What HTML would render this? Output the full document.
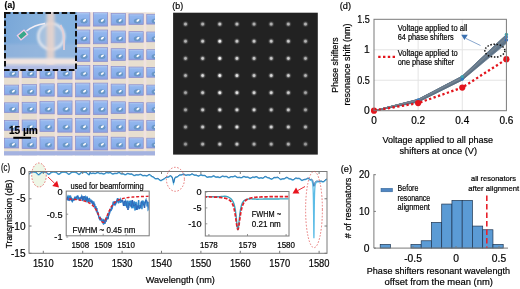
<!DOCTYPE html>
<html><head><meta charset="utf-8"><style>
html,body{margin:0;padding:0;background:#fff;width:520px;height:289px;overflow:hidden}
svg{display:block}
text{font-family:"Liberation Sans",Arial,sans-serif;stroke:#262626;stroke-width:0.22px;paint-order:stroke}
</style></head><body>
<svg width="520" height="289" viewBox="0 0 520 289">
<defs>
<linearGradient id="blk" x1="0" y1="0" x2="0" y2="1"><stop offset="0" stop-color="#b4ccf2"/><stop offset="0.2" stop-color="#92b6ee"/><stop offset="0.75" stop-color="#88aeea"/><stop offset="1" stop-color="#8aa0e0"/></linearGradient>
<linearGradient id="ibg" x1="0" y1="0" x2="1" y2="0.2"><stop offset="0" stop-color="#78a6d8"/><stop offset="0.55" stop-color="#88b2dc"/><stop offset="1" stop-color="#84b2e0"/></linearGradient>
<filter id="bl0" x="-5%" y="-5%" width="110%" height="110%"><feGaussianBlur stdDeviation="0.65"/></filter>
<filter id="bl1" x="-50%" y="-50%" width="200%" height="200%"><feGaussianBlur stdDeviation="0.6"/></filter>
<filter id="bl2" x="-50%" y="-50%" width="200%" height="200%"><feGaussianBlur stdDeviation="1.6"/></filter>
<filter id="bl3" x="-50%" y="-50%" width="200%" height="200%"><feGaussianBlur stdDeviation="1"/></filter>
<radialGradient id="dot"><stop offset="0" stop-color="#fff" stop-opacity="1"/><stop offset="0.3" stop-color="#eee" stop-opacity="0.95"/><stop offset="0.6" stop-color="#999" stop-opacity="0.45"/><stop offset="1" stop-color="#444" stop-opacity="0"/></radialGradient>
<clipPath id="pa"><rect x="4" y="12.3" width="151" height="143.3"/></clipPath>
<clipPath id="cin"><rect x="4" y="12" width="73" height="59"/></clipPath>
<clipPath id="cc"><rect x="29.0" y="160" width="298" height="93.3"/></clipPath>
</defs>
<g clip-path="url(#pa)">
<rect x="4" y="12.3" width="151" height="143.29999999999998" fill="#e8dfd0"/>
<g filter="url(#bl0)">
<rect x="19.10" y="12.3" width="2.6" height="143.29999999999998" fill="#f0e2e0"/>
<rect x="4.35" y="14.30" width="14.3" height="9.80" fill="url(#blk)" stroke="#8a8ccc" stroke-width="0.7"/>
<ellipse cx="12.80" cy="21.00" rx="3.6" ry="2.5" fill="#6090bc" opacity="0.75" filter="url(#bl1)"/>
<ellipse cx="13.40" cy="20.40" rx="1.8" ry="0.95" fill="#ffffff" transform="rotate(-35 13.40 20.40)"/>
<rect x="4.35" y="32.00" width="14.3" height="9.80" fill="url(#blk)" stroke="#8a8ccc" stroke-width="0.7"/>
<ellipse cx="12.80" cy="38.70" rx="3.6" ry="2.5" fill="#6090bc" opacity="0.75" filter="url(#bl1)"/>
<ellipse cx="13.40" cy="38.10" rx="1.8" ry="0.95" fill="#ffffff" transform="rotate(-35 13.40 38.10)"/>
<rect x="4.35" y="49.70" width="14.3" height="9.80" fill="url(#blk)" stroke="#8a8ccc" stroke-width="0.7"/>
<ellipse cx="12.80" cy="56.40" rx="3.6" ry="2.5" fill="#6090bc" opacity="0.75" filter="url(#bl1)"/>
<ellipse cx="13.40" cy="55.80" rx="1.8" ry="0.95" fill="#ffffff" transform="rotate(-35 13.40 55.80)"/>
<rect x="4.35" y="67.40" width="14.3" height="9.80" fill="url(#blk)" stroke="#8a8ccc" stroke-width="0.7"/>
<ellipse cx="12.80" cy="74.10" rx="3.6" ry="2.5" fill="#6090bc" opacity="0.75" filter="url(#bl1)"/>
<ellipse cx="13.40" cy="73.50" rx="1.8" ry="0.95" fill="#ffffff" transform="rotate(-35 13.40 73.50)"/>
<rect x="4.35" y="85.10" width="14.3" height="9.80" fill="url(#blk)" stroke="#8a8ccc" stroke-width="0.7"/>
<ellipse cx="12.80" cy="91.80" rx="3.6" ry="2.5" fill="#6090bc" opacity="0.75" filter="url(#bl1)"/>
<ellipse cx="13.40" cy="91.20" rx="1.8" ry="0.95" fill="#ffffff" transform="rotate(-35 13.40 91.20)"/>
<rect x="4.35" y="102.80" width="14.3" height="9.80" fill="url(#blk)" stroke="#8a8ccc" stroke-width="0.7"/>
<ellipse cx="12.80" cy="109.50" rx="3.6" ry="2.5" fill="#6090bc" opacity="0.75" filter="url(#bl1)"/>
<ellipse cx="13.40" cy="108.90" rx="1.8" ry="0.95" fill="#ffffff" transform="rotate(-35 13.40 108.90)"/>
<rect x="4.35" y="120.50" width="14.3" height="9.80" fill="url(#blk)" stroke="#8a8ccc" stroke-width="0.7"/>
<ellipse cx="12.80" cy="127.20" rx="3.6" ry="2.5" fill="#6090bc" opacity="0.75" filter="url(#bl1)"/>
<ellipse cx="13.40" cy="126.60" rx="1.8" ry="0.95" fill="#ffffff" transform="rotate(-35 13.40 126.60)"/>
<rect x="4.35" y="138.20" width="14.3" height="9.80" fill="url(#blk)" stroke="#8a8ccc" stroke-width="0.7"/>
<ellipse cx="12.80" cy="144.90" rx="3.6" ry="2.5" fill="#6090bc" opacity="0.75" filter="url(#bl1)"/>
<ellipse cx="13.40" cy="144.30" rx="1.8" ry="0.95" fill="#ffffff" transform="rotate(-35 13.40 144.30)"/>
<rect x="4.35" y="155.90" width="14.3" height="9.80" fill="url(#blk)" stroke="#8a8ccc" stroke-width="0.7"/>
<ellipse cx="12.80" cy="162.60" rx="3.6" ry="2.5" fill="#6090bc" opacity="0.75" filter="url(#bl1)"/>
<ellipse cx="13.40" cy="162.00" rx="1.8" ry="0.95" fill="#ffffff" transform="rotate(-35 13.40 162.00)"/>
<rect x="36.90" y="12.3" width="2.6" height="143.29999999999998" fill="#f0e2e0"/>
<rect x="22.15" y="13.80" width="14.3" height="10.80" fill="url(#blk)" stroke="#8a8ccc" stroke-width="0.7"/>
<ellipse cx="30.60" cy="21.00" rx="3.6" ry="2.5" fill="#6090bc" opacity="0.75" filter="url(#bl1)"/>
<ellipse cx="31.20" cy="20.40" rx="1.8" ry="0.95" fill="#ffffff" transform="rotate(-35 31.20 20.40)"/>
<rect x="22.15" y="31.50" width="14.3" height="10.80" fill="url(#blk)" stroke="#8a8ccc" stroke-width="0.7"/>
<ellipse cx="30.60" cy="38.70" rx="3.6" ry="2.5" fill="#6090bc" opacity="0.75" filter="url(#bl1)"/>
<ellipse cx="31.20" cy="38.10" rx="1.8" ry="0.95" fill="#ffffff" transform="rotate(-35 31.20 38.10)"/>
<rect x="22.15" y="49.20" width="14.3" height="10.80" fill="url(#blk)" stroke="#8a8ccc" stroke-width="0.7"/>
<ellipse cx="30.60" cy="56.40" rx="3.6" ry="2.5" fill="#6090bc" opacity="0.75" filter="url(#bl1)"/>
<ellipse cx="31.20" cy="55.80" rx="1.8" ry="0.95" fill="#ffffff" transform="rotate(-35 31.20 55.80)"/>
<rect x="22.15" y="66.90" width="14.3" height="10.80" fill="url(#blk)" stroke="#8a8ccc" stroke-width="0.7"/>
<ellipse cx="30.60" cy="74.10" rx="3.6" ry="2.5" fill="#6090bc" opacity="0.75" filter="url(#bl1)"/>
<ellipse cx="31.20" cy="73.50" rx="1.8" ry="0.95" fill="#ffffff" transform="rotate(-35 31.20 73.50)"/>
<rect x="22.15" y="84.60" width="14.3" height="10.80" fill="url(#blk)" stroke="#8a8ccc" stroke-width="0.7"/>
<ellipse cx="30.60" cy="91.80" rx="3.6" ry="2.5" fill="#6090bc" opacity="0.75" filter="url(#bl1)"/>
<ellipse cx="31.20" cy="91.20" rx="1.8" ry="0.95" fill="#ffffff" transform="rotate(-35 31.20 91.20)"/>
<rect x="22.15" y="102.30" width="14.3" height="10.80" fill="url(#blk)" stroke="#8a8ccc" stroke-width="0.7"/>
<ellipse cx="30.60" cy="109.50" rx="3.6" ry="2.5" fill="#6090bc" opacity="0.75" filter="url(#bl1)"/>
<ellipse cx="31.20" cy="108.90" rx="1.8" ry="0.95" fill="#ffffff" transform="rotate(-35 31.20 108.90)"/>
<rect x="22.15" y="120.00" width="14.3" height="10.80" fill="url(#blk)" stroke="#8a8ccc" stroke-width="0.7"/>
<ellipse cx="30.60" cy="127.20" rx="3.6" ry="2.5" fill="#6090bc" opacity="0.75" filter="url(#bl1)"/>
<ellipse cx="31.20" cy="126.60" rx="1.8" ry="0.95" fill="#ffffff" transform="rotate(-35 31.20 126.60)"/>
<rect x="22.15" y="137.70" width="14.3" height="10.80" fill="url(#blk)" stroke="#8a8ccc" stroke-width="0.7"/>
<ellipse cx="30.60" cy="144.90" rx="3.6" ry="2.5" fill="#6090bc" opacity="0.75" filter="url(#bl1)"/>
<ellipse cx="31.20" cy="144.30" rx="1.8" ry="0.95" fill="#ffffff" transform="rotate(-35 31.20 144.30)"/>
<rect x="22.15" y="155.40" width="14.3" height="10.80" fill="url(#blk)" stroke="#8a8ccc" stroke-width="0.7"/>
<ellipse cx="30.60" cy="162.60" rx="3.6" ry="2.5" fill="#6090bc" opacity="0.75" filter="url(#bl1)"/>
<ellipse cx="31.20" cy="162.00" rx="1.8" ry="0.95" fill="#ffffff" transform="rotate(-35 31.20 162.00)"/>
<rect x="54.70" y="12.3" width="2.6" height="143.29999999999998" fill="#f0e2e0"/>
<rect x="39.95" y="13.05" width="14.3" height="12.30" fill="url(#blk)" stroke="#8a8ccc" stroke-width="0.7"/>
<ellipse cx="48.40" cy="21.00" rx="3.6" ry="2.5" fill="#6090bc" opacity="0.75" filter="url(#bl1)"/>
<ellipse cx="49.00" cy="20.40" rx="1.8" ry="0.95" fill="#ffffff" transform="rotate(-35 49.00 20.40)"/>
<rect x="39.95" y="30.75" width="14.3" height="12.30" fill="url(#blk)" stroke="#8a8ccc" stroke-width="0.7"/>
<ellipse cx="48.40" cy="38.70" rx="3.6" ry="2.5" fill="#6090bc" opacity="0.75" filter="url(#bl1)"/>
<ellipse cx="49.00" cy="38.10" rx="1.8" ry="0.95" fill="#ffffff" transform="rotate(-35 49.00 38.10)"/>
<rect x="39.95" y="48.45" width="14.3" height="12.30" fill="url(#blk)" stroke="#8a8ccc" stroke-width="0.7"/>
<ellipse cx="48.40" cy="56.40" rx="3.6" ry="2.5" fill="#6090bc" opacity="0.75" filter="url(#bl1)"/>
<ellipse cx="49.00" cy="55.80" rx="1.8" ry="0.95" fill="#ffffff" transform="rotate(-35 49.00 55.80)"/>
<rect x="39.95" y="66.15" width="14.3" height="12.30" fill="url(#blk)" stroke="#8a8ccc" stroke-width="0.7"/>
<ellipse cx="48.40" cy="74.10" rx="3.6" ry="2.5" fill="#6090bc" opacity="0.75" filter="url(#bl1)"/>
<ellipse cx="49.00" cy="73.50" rx="1.8" ry="0.95" fill="#ffffff" transform="rotate(-35 49.00 73.50)"/>
<rect x="39.95" y="83.85" width="14.3" height="12.30" fill="url(#blk)" stroke="#8a8ccc" stroke-width="0.7"/>
<ellipse cx="48.40" cy="91.80" rx="3.6" ry="2.5" fill="#6090bc" opacity="0.75" filter="url(#bl1)"/>
<ellipse cx="49.00" cy="91.20" rx="1.8" ry="0.95" fill="#ffffff" transform="rotate(-35 49.00 91.20)"/>
<rect x="39.95" y="101.55" width="14.3" height="12.30" fill="url(#blk)" stroke="#8a8ccc" stroke-width="0.7"/>
<ellipse cx="48.40" cy="109.50" rx="3.6" ry="2.5" fill="#6090bc" opacity="0.75" filter="url(#bl1)"/>
<ellipse cx="49.00" cy="108.90" rx="1.8" ry="0.95" fill="#ffffff" transform="rotate(-35 49.00 108.90)"/>
<rect x="39.95" y="119.25" width="14.3" height="12.30" fill="url(#blk)" stroke="#8a8ccc" stroke-width="0.7"/>
<ellipse cx="48.40" cy="127.20" rx="3.6" ry="2.5" fill="#6090bc" opacity="0.75" filter="url(#bl1)"/>
<ellipse cx="49.00" cy="126.60" rx="1.8" ry="0.95" fill="#ffffff" transform="rotate(-35 49.00 126.60)"/>
<rect x="39.95" y="136.95" width="14.3" height="12.30" fill="url(#blk)" stroke="#8a8ccc" stroke-width="0.7"/>
<ellipse cx="48.40" cy="144.90" rx="3.6" ry="2.5" fill="#6090bc" opacity="0.75" filter="url(#bl1)"/>
<ellipse cx="49.00" cy="144.30" rx="1.8" ry="0.95" fill="#ffffff" transform="rotate(-35 49.00 144.30)"/>
<rect x="39.95" y="154.65" width="14.3" height="12.30" fill="url(#blk)" stroke="#8a8ccc" stroke-width="0.7"/>
<ellipse cx="48.40" cy="162.60" rx="3.6" ry="2.5" fill="#6090bc" opacity="0.75" filter="url(#bl1)"/>
<ellipse cx="49.00" cy="162.00" rx="1.8" ry="0.95" fill="#ffffff" transform="rotate(-35 49.00 162.00)"/>
<rect x="72.50" y="12.3" width="2.6" height="143.29999999999998" fill="#f0e2e0"/>
<rect x="57.75" y="12.45" width="14.3" height="13.50" fill="url(#blk)" stroke="#8a8ccc" stroke-width="0.7"/>
<ellipse cx="66.20" cy="21.00" rx="3.6" ry="2.5" fill="#6090bc" opacity="0.75" filter="url(#bl1)"/>
<ellipse cx="66.80" cy="20.40" rx="1.8" ry="0.95" fill="#ffffff" transform="rotate(-35 66.80 20.40)"/>
<rect x="57.75" y="30.15" width="14.3" height="13.50" fill="url(#blk)" stroke="#8a8ccc" stroke-width="0.7"/>
<ellipse cx="66.20" cy="38.70" rx="3.6" ry="2.5" fill="#6090bc" opacity="0.75" filter="url(#bl1)"/>
<ellipse cx="66.80" cy="38.10" rx="1.8" ry="0.95" fill="#ffffff" transform="rotate(-35 66.80 38.10)"/>
<rect x="57.75" y="47.85" width="14.3" height="13.50" fill="url(#blk)" stroke="#8a8ccc" stroke-width="0.7"/>
<ellipse cx="66.20" cy="56.40" rx="3.6" ry="2.5" fill="#6090bc" opacity="0.75" filter="url(#bl1)"/>
<ellipse cx="66.80" cy="55.80" rx="1.8" ry="0.95" fill="#ffffff" transform="rotate(-35 66.80 55.80)"/>
<rect x="57.75" y="65.55" width="14.3" height="13.50" fill="url(#blk)" stroke="#8a8ccc" stroke-width="0.7"/>
<ellipse cx="66.20" cy="74.10" rx="3.6" ry="2.5" fill="#6090bc" opacity="0.75" filter="url(#bl1)"/>
<ellipse cx="66.80" cy="73.50" rx="1.8" ry="0.95" fill="#ffffff" transform="rotate(-35 66.80 73.50)"/>
<rect x="57.75" y="83.25" width="14.3" height="13.50" fill="url(#blk)" stroke="#8a8ccc" stroke-width="0.7"/>
<ellipse cx="66.20" cy="91.80" rx="3.6" ry="2.5" fill="#6090bc" opacity="0.75" filter="url(#bl1)"/>
<ellipse cx="66.80" cy="91.20" rx="1.8" ry="0.95" fill="#ffffff" transform="rotate(-35 66.80 91.20)"/>
<rect x="57.75" y="100.95" width="14.3" height="13.50" fill="url(#blk)" stroke="#8a8ccc" stroke-width="0.7"/>
<ellipse cx="66.20" cy="109.50" rx="3.6" ry="2.5" fill="#6090bc" opacity="0.75" filter="url(#bl1)"/>
<ellipse cx="66.80" cy="108.90" rx="1.8" ry="0.95" fill="#ffffff" transform="rotate(-35 66.80 108.90)"/>
<rect x="57.75" y="118.65" width="14.3" height="13.50" fill="url(#blk)" stroke="#8a8ccc" stroke-width="0.7"/>
<ellipse cx="66.20" cy="127.20" rx="3.6" ry="2.5" fill="#6090bc" opacity="0.75" filter="url(#bl1)"/>
<ellipse cx="66.80" cy="126.60" rx="1.8" ry="0.95" fill="#ffffff" transform="rotate(-35 66.80 126.60)"/>
<rect x="57.75" y="136.35" width="14.3" height="13.50" fill="url(#blk)" stroke="#8a8ccc" stroke-width="0.7"/>
<ellipse cx="66.20" cy="144.90" rx="3.6" ry="2.5" fill="#6090bc" opacity="0.75" filter="url(#bl1)"/>
<ellipse cx="66.80" cy="144.30" rx="1.8" ry="0.95" fill="#ffffff" transform="rotate(-35 66.80 144.30)"/>
<rect x="57.75" y="154.05" width="14.3" height="13.50" fill="url(#blk)" stroke="#8a8ccc" stroke-width="0.7"/>
<ellipse cx="66.20" cy="162.60" rx="3.6" ry="2.5" fill="#6090bc" opacity="0.75" filter="url(#bl1)"/>
<ellipse cx="66.80" cy="162.00" rx="1.8" ry="0.95" fill="#ffffff" transform="rotate(-35 66.80 162.00)"/>
<rect x="90.30" y="12.3" width="2.6" height="143.29999999999998" fill="#f0e2e0"/>
<rect x="75.55" y="12.30" width="14.3" height="13.80" fill="url(#blk)" stroke="#8a8ccc" stroke-width="0.7"/>
<ellipse cx="84.00" cy="21.00" rx="3.6" ry="2.5" fill="#6090bc" opacity="0.75" filter="url(#bl1)"/>
<ellipse cx="84.60" cy="20.40" rx="1.8" ry="0.95" fill="#ffffff" transform="rotate(-35 84.60 20.40)"/>
<rect x="75.55" y="30.00" width="14.3" height="13.80" fill="url(#blk)" stroke="#8a8ccc" stroke-width="0.7"/>
<ellipse cx="84.00" cy="38.70" rx="3.6" ry="2.5" fill="#6090bc" opacity="0.75" filter="url(#bl1)"/>
<ellipse cx="84.60" cy="38.10" rx="1.8" ry="0.95" fill="#ffffff" transform="rotate(-35 84.60 38.10)"/>
<rect x="75.55" y="47.70" width="14.3" height="13.80" fill="url(#blk)" stroke="#8a8ccc" stroke-width="0.7"/>
<ellipse cx="84.00" cy="56.40" rx="3.6" ry="2.5" fill="#6090bc" opacity="0.75" filter="url(#bl1)"/>
<ellipse cx="84.60" cy="55.80" rx="1.8" ry="0.95" fill="#ffffff" transform="rotate(-35 84.60 55.80)"/>
<rect x="75.55" y="65.40" width="14.3" height="13.80" fill="url(#blk)" stroke="#8a8ccc" stroke-width="0.7"/>
<ellipse cx="84.00" cy="74.10" rx="3.6" ry="2.5" fill="#6090bc" opacity="0.75" filter="url(#bl1)"/>
<ellipse cx="84.60" cy="73.50" rx="1.8" ry="0.95" fill="#ffffff" transform="rotate(-35 84.60 73.50)"/>
<rect x="75.55" y="83.10" width="14.3" height="13.80" fill="url(#blk)" stroke="#8a8ccc" stroke-width="0.7"/>
<ellipse cx="84.00" cy="91.80" rx="3.6" ry="2.5" fill="#6090bc" opacity="0.75" filter="url(#bl1)"/>
<ellipse cx="84.60" cy="91.20" rx="1.8" ry="0.95" fill="#ffffff" transform="rotate(-35 84.60 91.20)"/>
<rect x="75.55" y="100.80" width="14.3" height="13.80" fill="url(#blk)" stroke="#8a8ccc" stroke-width="0.7"/>
<ellipse cx="84.00" cy="109.50" rx="3.6" ry="2.5" fill="#6090bc" opacity="0.75" filter="url(#bl1)"/>
<ellipse cx="84.60" cy="108.90" rx="1.8" ry="0.95" fill="#ffffff" transform="rotate(-35 84.60 108.90)"/>
<rect x="75.55" y="118.50" width="14.3" height="13.80" fill="url(#blk)" stroke="#8a8ccc" stroke-width="0.7"/>
<ellipse cx="84.00" cy="127.20" rx="3.6" ry="2.5" fill="#6090bc" opacity="0.75" filter="url(#bl1)"/>
<ellipse cx="84.60" cy="126.60" rx="1.8" ry="0.95" fill="#ffffff" transform="rotate(-35 84.60 126.60)"/>
<rect x="75.55" y="136.20" width="14.3" height="13.80" fill="url(#blk)" stroke="#8a8ccc" stroke-width="0.7"/>
<ellipse cx="84.00" cy="144.90" rx="3.6" ry="2.5" fill="#6090bc" opacity="0.75" filter="url(#bl1)"/>
<ellipse cx="84.60" cy="144.30" rx="1.8" ry="0.95" fill="#ffffff" transform="rotate(-35 84.60 144.30)"/>
<rect x="75.55" y="153.90" width="14.3" height="13.80" fill="url(#blk)" stroke="#8a8ccc" stroke-width="0.7"/>
<ellipse cx="84.00" cy="162.60" rx="3.6" ry="2.5" fill="#6090bc" opacity="0.75" filter="url(#bl1)"/>
<ellipse cx="84.60" cy="162.00" rx="1.8" ry="0.95" fill="#ffffff" transform="rotate(-35 84.60 162.00)"/>
<rect x="108.10" y="12.3" width="2.6" height="143.29999999999998" fill="#f0e2e0"/>
<rect x="93.35" y="12.30" width="14.3" height="13.80" fill="url(#blk)" stroke="#8a8ccc" stroke-width="0.7"/>
<ellipse cx="101.80" cy="21.00" rx="3.6" ry="2.5" fill="#6090bc" opacity="0.75" filter="url(#bl1)"/>
<ellipse cx="102.40" cy="20.40" rx="1.8" ry="0.95" fill="#ffffff" transform="rotate(-35 102.40 20.40)"/>
<rect x="93.35" y="30.00" width="14.3" height="13.80" fill="url(#blk)" stroke="#8a8ccc" stroke-width="0.7"/>
<ellipse cx="101.80" cy="38.70" rx="3.6" ry="2.5" fill="#6090bc" opacity="0.75" filter="url(#bl1)"/>
<ellipse cx="102.40" cy="38.10" rx="1.8" ry="0.95" fill="#ffffff" transform="rotate(-35 102.40 38.10)"/>
<rect x="93.35" y="47.70" width="14.3" height="13.80" fill="url(#blk)" stroke="#8a8ccc" stroke-width="0.7"/>
<ellipse cx="101.80" cy="56.40" rx="3.6" ry="2.5" fill="#6090bc" opacity="0.75" filter="url(#bl1)"/>
<ellipse cx="102.40" cy="55.80" rx="1.8" ry="0.95" fill="#ffffff" transform="rotate(-35 102.40 55.80)"/>
<rect x="93.35" y="65.40" width="14.3" height="13.80" fill="url(#blk)" stroke="#8a8ccc" stroke-width="0.7"/>
<ellipse cx="101.80" cy="74.10" rx="3.6" ry="2.5" fill="#6090bc" opacity="0.75" filter="url(#bl1)"/>
<ellipse cx="102.40" cy="73.50" rx="1.8" ry="0.95" fill="#ffffff" transform="rotate(-35 102.40 73.50)"/>
<rect x="93.35" y="83.10" width="14.3" height="13.80" fill="url(#blk)" stroke="#8a8ccc" stroke-width="0.7"/>
<ellipse cx="101.80" cy="91.80" rx="3.6" ry="2.5" fill="#6090bc" opacity="0.75" filter="url(#bl1)"/>
<ellipse cx="102.40" cy="91.20" rx="1.8" ry="0.95" fill="#ffffff" transform="rotate(-35 102.40 91.20)"/>
<rect x="93.35" y="100.80" width="14.3" height="13.80" fill="url(#blk)" stroke="#8a8ccc" stroke-width="0.7"/>
<ellipse cx="101.80" cy="109.50" rx="3.6" ry="2.5" fill="#6090bc" opacity="0.75" filter="url(#bl1)"/>
<ellipse cx="102.40" cy="108.90" rx="1.8" ry="0.95" fill="#ffffff" transform="rotate(-35 102.40 108.90)"/>
<rect x="93.35" y="118.50" width="14.3" height="13.80" fill="url(#blk)" stroke="#8a8ccc" stroke-width="0.7"/>
<ellipse cx="101.80" cy="127.20" rx="3.6" ry="2.5" fill="#6090bc" opacity="0.75" filter="url(#bl1)"/>
<ellipse cx="102.40" cy="126.60" rx="1.8" ry="0.95" fill="#ffffff" transform="rotate(-35 102.40 126.60)"/>
<rect x="93.35" y="136.20" width="14.3" height="13.80" fill="url(#blk)" stroke="#8a8ccc" stroke-width="0.7"/>
<ellipse cx="101.80" cy="144.90" rx="3.6" ry="2.5" fill="#6090bc" opacity="0.75" filter="url(#bl1)"/>
<ellipse cx="102.40" cy="144.30" rx="1.8" ry="0.95" fill="#ffffff" transform="rotate(-35 102.40 144.30)"/>
<rect x="93.35" y="153.90" width="14.3" height="13.80" fill="url(#blk)" stroke="#8a8ccc" stroke-width="0.7"/>
<ellipse cx="101.80" cy="162.60" rx="3.6" ry="2.5" fill="#6090bc" opacity="0.75" filter="url(#bl1)"/>
<ellipse cx="102.40" cy="162.00" rx="1.8" ry="0.95" fill="#ffffff" transform="rotate(-35 102.40 162.00)"/>
<rect x="125.90" y="12.3" width="2.6" height="143.29999999999998" fill="#f0e2e0"/>
<rect x="111.15" y="13.30" width="14.3" height="11.80" fill="url(#blk)" stroke="#8a8ccc" stroke-width="0.7"/>
<ellipse cx="119.60" cy="21.00" rx="3.6" ry="2.5" fill="#6090bc" opacity="0.75" filter="url(#bl1)"/>
<ellipse cx="120.20" cy="20.40" rx="1.8" ry="0.95" fill="#ffffff" transform="rotate(-35 120.20 20.40)"/>
<rect x="111.15" y="31.00" width="14.3" height="11.80" fill="url(#blk)" stroke="#8a8ccc" stroke-width="0.7"/>
<ellipse cx="119.60" cy="38.70" rx="3.6" ry="2.5" fill="#6090bc" opacity="0.75" filter="url(#bl1)"/>
<ellipse cx="120.20" cy="38.10" rx="1.8" ry="0.95" fill="#ffffff" transform="rotate(-35 120.20 38.10)"/>
<rect x="111.15" y="48.70" width="14.3" height="11.80" fill="url(#blk)" stroke="#8a8ccc" stroke-width="0.7"/>
<ellipse cx="119.60" cy="56.40" rx="3.6" ry="2.5" fill="#6090bc" opacity="0.75" filter="url(#bl1)"/>
<ellipse cx="120.20" cy="55.80" rx="1.8" ry="0.95" fill="#ffffff" transform="rotate(-35 120.20 55.80)"/>
<rect x="111.15" y="66.40" width="14.3" height="11.80" fill="url(#blk)" stroke="#8a8ccc" stroke-width="0.7"/>
<ellipse cx="119.60" cy="74.10" rx="3.6" ry="2.5" fill="#6090bc" opacity="0.75" filter="url(#bl1)"/>
<ellipse cx="120.20" cy="73.50" rx="1.8" ry="0.95" fill="#ffffff" transform="rotate(-35 120.20 73.50)"/>
<rect x="111.15" y="84.10" width="14.3" height="11.80" fill="url(#blk)" stroke="#8a8ccc" stroke-width="0.7"/>
<ellipse cx="119.60" cy="91.80" rx="3.6" ry="2.5" fill="#6090bc" opacity="0.75" filter="url(#bl1)"/>
<ellipse cx="120.20" cy="91.20" rx="1.8" ry="0.95" fill="#ffffff" transform="rotate(-35 120.20 91.20)"/>
<rect x="111.15" y="101.80" width="14.3" height="11.80" fill="url(#blk)" stroke="#8a8ccc" stroke-width="0.7"/>
<ellipse cx="119.60" cy="109.50" rx="3.6" ry="2.5" fill="#6090bc" opacity="0.75" filter="url(#bl1)"/>
<ellipse cx="120.20" cy="108.90" rx="1.8" ry="0.95" fill="#ffffff" transform="rotate(-35 120.20 108.90)"/>
<rect x="111.15" y="119.50" width="14.3" height="11.80" fill="url(#blk)" stroke="#8a8ccc" stroke-width="0.7"/>
<ellipse cx="119.60" cy="127.20" rx="3.6" ry="2.5" fill="#6090bc" opacity="0.75" filter="url(#bl1)"/>
<ellipse cx="120.20" cy="126.60" rx="1.8" ry="0.95" fill="#ffffff" transform="rotate(-35 120.20 126.60)"/>
<rect x="111.15" y="137.20" width="14.3" height="11.80" fill="url(#blk)" stroke="#8a8ccc" stroke-width="0.7"/>
<ellipse cx="119.60" cy="144.90" rx="3.6" ry="2.5" fill="#6090bc" opacity="0.75" filter="url(#bl1)"/>
<ellipse cx="120.20" cy="144.30" rx="1.8" ry="0.95" fill="#ffffff" transform="rotate(-35 120.20 144.30)"/>
<rect x="111.15" y="154.90" width="14.3" height="11.80" fill="url(#blk)" stroke="#8a8ccc" stroke-width="0.7"/>
<ellipse cx="119.60" cy="162.60" rx="3.6" ry="2.5" fill="#6090bc" opacity="0.75" filter="url(#bl1)"/>
<ellipse cx="120.20" cy="162.00" rx="1.8" ry="0.95" fill="#ffffff" transform="rotate(-35 120.20 162.00)"/>
<rect x="143.70" y="12.3" width="2.6" height="143.29999999999998" fill="#f0e2e0"/>
<rect x="128.95" y="13.95" width="14.3" height="10.50" fill="url(#blk)" stroke="#8a8ccc" stroke-width="0.7"/>
<ellipse cx="137.40" cy="21.00" rx="3.6" ry="2.5" fill="#6090bc" opacity="0.75" filter="url(#bl1)"/>
<ellipse cx="138.00" cy="20.40" rx="1.8" ry="0.95" fill="#ffffff" transform="rotate(-35 138.00 20.40)"/>
<rect x="128.95" y="31.65" width="14.3" height="10.50" fill="url(#blk)" stroke="#8a8ccc" stroke-width="0.7"/>
<ellipse cx="137.40" cy="38.70" rx="3.6" ry="2.5" fill="#6090bc" opacity="0.75" filter="url(#bl1)"/>
<ellipse cx="138.00" cy="38.10" rx="1.8" ry="0.95" fill="#ffffff" transform="rotate(-35 138.00 38.10)"/>
<rect x="128.95" y="49.35" width="14.3" height="10.50" fill="url(#blk)" stroke="#8a8ccc" stroke-width="0.7"/>
<ellipse cx="137.40" cy="56.40" rx="3.6" ry="2.5" fill="#6090bc" opacity="0.75" filter="url(#bl1)"/>
<ellipse cx="138.00" cy="55.80" rx="1.8" ry="0.95" fill="#ffffff" transform="rotate(-35 138.00 55.80)"/>
<rect x="128.95" y="67.05" width="14.3" height="10.50" fill="url(#blk)" stroke="#8a8ccc" stroke-width="0.7"/>
<ellipse cx="137.40" cy="74.10" rx="3.6" ry="2.5" fill="#6090bc" opacity="0.75" filter="url(#bl1)"/>
<ellipse cx="138.00" cy="73.50" rx="1.8" ry="0.95" fill="#ffffff" transform="rotate(-35 138.00 73.50)"/>
<rect x="128.95" y="84.75" width="14.3" height="10.50" fill="url(#blk)" stroke="#8a8ccc" stroke-width="0.7"/>
<ellipse cx="137.40" cy="91.80" rx="3.6" ry="2.5" fill="#6090bc" opacity="0.75" filter="url(#bl1)"/>
<ellipse cx="138.00" cy="91.20" rx="1.8" ry="0.95" fill="#ffffff" transform="rotate(-35 138.00 91.20)"/>
<rect x="128.95" y="102.45" width="14.3" height="10.50" fill="url(#blk)" stroke="#8a8ccc" stroke-width="0.7"/>
<ellipse cx="137.40" cy="109.50" rx="3.6" ry="2.5" fill="#6090bc" opacity="0.75" filter="url(#bl1)"/>
<ellipse cx="138.00" cy="108.90" rx="1.8" ry="0.95" fill="#ffffff" transform="rotate(-35 138.00 108.90)"/>
<rect x="128.95" y="120.15" width="14.3" height="10.50" fill="url(#blk)" stroke="#8a8ccc" stroke-width="0.7"/>
<ellipse cx="137.40" cy="127.20" rx="3.6" ry="2.5" fill="#6090bc" opacity="0.75" filter="url(#bl1)"/>
<ellipse cx="138.00" cy="126.60" rx="1.8" ry="0.95" fill="#ffffff" transform="rotate(-35 138.00 126.60)"/>
<rect x="128.95" y="137.85" width="14.3" height="10.50" fill="url(#blk)" stroke="#8a8ccc" stroke-width="0.7"/>
<ellipse cx="137.40" cy="144.90" rx="3.6" ry="2.5" fill="#6090bc" opacity="0.75" filter="url(#bl1)"/>
<ellipse cx="138.00" cy="144.30" rx="1.8" ry="0.95" fill="#ffffff" transform="rotate(-35 138.00 144.30)"/>
<rect x="128.95" y="155.55" width="14.3" height="10.50" fill="url(#blk)" stroke="#8a8ccc" stroke-width="0.7"/>
<ellipse cx="137.40" cy="162.60" rx="3.6" ry="2.5" fill="#6090bc" opacity="0.75" filter="url(#bl1)"/>
<ellipse cx="138.00" cy="162.00" rx="1.8" ry="0.95" fill="#ffffff" transform="rotate(-35 138.00 162.00)"/>
<rect x="161.50" y="12.3" width="2.6" height="143.29999999999998" fill="#f0e2e0"/>
<rect x="146.75" y="14.30" width="14.3" height="9.80" fill="url(#blk)" stroke="#8a8ccc" stroke-width="0.7"/>
<ellipse cx="155.20" cy="21.00" rx="3.6" ry="2.5" fill="#6090bc" opacity="0.75" filter="url(#bl1)"/>
<ellipse cx="155.80" cy="20.40" rx="1.8" ry="0.95" fill="#ffffff" transform="rotate(-35 155.80 20.40)"/>
<rect x="146.75" y="32.00" width="14.3" height="9.80" fill="url(#blk)" stroke="#8a8ccc" stroke-width="0.7"/>
<ellipse cx="155.20" cy="38.70" rx="3.6" ry="2.5" fill="#6090bc" opacity="0.75" filter="url(#bl1)"/>
<ellipse cx="155.80" cy="38.10" rx="1.8" ry="0.95" fill="#ffffff" transform="rotate(-35 155.80 38.10)"/>
<rect x="146.75" y="49.70" width="14.3" height="9.80" fill="url(#blk)" stroke="#8a8ccc" stroke-width="0.7"/>
<ellipse cx="155.20" cy="56.40" rx="3.6" ry="2.5" fill="#6090bc" opacity="0.75" filter="url(#bl1)"/>
<ellipse cx="155.80" cy="55.80" rx="1.8" ry="0.95" fill="#ffffff" transform="rotate(-35 155.80 55.80)"/>
<rect x="146.75" y="67.40" width="14.3" height="9.80" fill="url(#blk)" stroke="#8a8ccc" stroke-width="0.7"/>
<ellipse cx="155.20" cy="74.10" rx="3.6" ry="2.5" fill="#6090bc" opacity="0.75" filter="url(#bl1)"/>
<ellipse cx="155.80" cy="73.50" rx="1.8" ry="0.95" fill="#ffffff" transform="rotate(-35 155.80 73.50)"/>
<rect x="146.75" y="85.10" width="14.3" height="9.80" fill="url(#blk)" stroke="#8a8ccc" stroke-width="0.7"/>
<ellipse cx="155.20" cy="91.80" rx="3.6" ry="2.5" fill="#6090bc" opacity="0.75" filter="url(#bl1)"/>
<ellipse cx="155.80" cy="91.20" rx="1.8" ry="0.95" fill="#ffffff" transform="rotate(-35 155.80 91.20)"/>
<rect x="146.75" y="102.80" width="14.3" height="9.80" fill="url(#blk)" stroke="#8a8ccc" stroke-width="0.7"/>
<ellipse cx="155.20" cy="109.50" rx="3.6" ry="2.5" fill="#6090bc" opacity="0.75" filter="url(#bl1)"/>
<ellipse cx="155.80" cy="108.90" rx="1.8" ry="0.95" fill="#ffffff" transform="rotate(-35 155.80 108.90)"/>
<rect x="146.75" y="120.50" width="14.3" height="9.80" fill="url(#blk)" stroke="#8a8ccc" stroke-width="0.7"/>
<ellipse cx="155.20" cy="127.20" rx="3.6" ry="2.5" fill="#6090bc" opacity="0.75" filter="url(#bl1)"/>
<ellipse cx="155.80" cy="126.60" rx="1.8" ry="0.95" fill="#ffffff" transform="rotate(-35 155.80 126.60)"/>
<rect x="146.75" y="138.20" width="14.3" height="9.80" fill="url(#blk)" stroke="#8a8ccc" stroke-width="0.7"/>
<ellipse cx="155.20" cy="144.90" rx="3.6" ry="2.5" fill="#6090bc" opacity="0.75" filter="url(#bl1)"/>
<ellipse cx="155.80" cy="144.30" rx="1.8" ry="0.95" fill="#ffffff" transform="rotate(-35 155.80 144.30)"/>
<rect x="146.75" y="155.90" width="14.3" height="9.80" fill="url(#blk)" stroke="#8a8ccc" stroke-width="0.7"/>
<ellipse cx="155.20" cy="162.60" rx="3.6" ry="2.5" fill="#6090bc" opacity="0.75" filter="url(#bl1)"/>
<ellipse cx="155.80" cy="162.00" rx="1.8" ry="0.95" fill="#ffffff" transform="rotate(-35 155.80 162.00)"/>
<rect x="4" y="151.2" width="151" height="4.4" fill="#a4b2e0"/>
</g>
</g>
<g clip-path="url(#cin)">
<rect x="4" y="12" width="73" height="59" fill="url(#ibg)"/>
<rect x="4" y="44" width="73" height="14" fill="#a0bade" opacity="0.5" filter="url(#bl2)"/>
<circle cx="51.2" cy="36.5" r="11.5" fill="#c2cee0" opacity="0.55" filter="url(#bl2)"/>
<circle cx="51.2" cy="36.5" r="12.8" fill="none" stroke="#e2e6ee" stroke-width="2.8" opacity="1" filter="url(#bl3)"/>
<rect x="46.6" y="8" width="8" height="68" fill="#e8d4cc" opacity="0.88" filter="url(#bl2)"/>
<rect x="0" y="64.6" width="80" height="8" fill="#b0bce4"/>
<rect x="0" y="58.2" width="80" height="6.6" fill="#f0e4e0" filter="url(#bl3)"/>
<path d="M60.5,25 C63.5,30 64.5,38 64,50" fill="none" stroke="#e6d0d6" stroke-width="2" opacity="0.9" filter="url(#bl1)"/>
<path d="M26.5,31 C31,27.5 37,24.5 45,23.5" fill="none" stroke="#f4eef4" stroke-width="1.4"/>
<rect x="18.2" y="32.2" width="8.6" height="5.6" fill="#38a88a" stroke="#f2cce8" stroke-width="1.3" transform="rotate(-40 22.5 35)"/>
</g>
<rect x="5" y="13" width="71" height="57" fill="none" stroke="#111" stroke-width="2" stroke-dasharray="5.5,2.6"/>
<rect x="13.3" y="136.8" width="17.7" height="2" fill="#000"/>
<text x="8.90" y="134.00" font-size="10.9" textLength="29.00" lengthAdjust="spacingAndGlyphs" fill="#000" font-weight="bold" style="stroke:#000;stroke-width:0.15px">15 µm</text>
<rect x="173.1" y="12.7" width="144.7" height="141.9" fill="#222"/>
<circle cx="185.50" cy="24.10" r="3.6" fill="url(#dot)" opacity="0.69"/>
<circle cx="202.64" cy="24.10" r="3.6" fill="url(#dot)" opacity="0.69"/>
<circle cx="219.78" cy="24.10" r="3.6" fill="url(#dot)" opacity="0.80"/>
<circle cx="236.92" cy="24.10" r="3.6" fill="url(#dot)" opacity="0.75"/>
<circle cx="254.06" cy="24.10" r="3.6" fill="url(#dot)" opacity="0.69"/>
<circle cx="271.20" cy="24.10" r="3.6" fill="url(#dot)" opacity="0.69"/>
<circle cx="288.34" cy="24.10" r="3.6" fill="url(#dot)" opacity="0.69"/>
<circle cx="305.48" cy="24.10" r="3.6" fill="url(#dot)" opacity="0.69"/>
<circle cx="185.50" cy="41.25" r="3.6" fill="url(#dot)" opacity="0.69"/>
<circle cx="202.64" cy="41.25" r="3.6" fill="url(#dot)" opacity="0.80"/>
<circle cx="219.78" cy="41.25" r="3.6" fill="url(#dot)" opacity="1.00"/>
<circle cx="236.92" cy="41.25" r="3.6" fill="url(#dot)" opacity="0.80"/>
<circle cx="254.06" cy="41.25" r="3.6" fill="url(#dot)" opacity="0.80"/>
<circle cx="271.20" cy="41.25" r="3.6" fill="url(#dot)" opacity="0.80"/>
<circle cx="288.34" cy="41.25" r="3.6" fill="url(#dot)" opacity="0.80"/>
<circle cx="305.48" cy="41.25" r="3.6" fill="url(#dot)" opacity="0.69"/>
<circle cx="185.50" cy="58.40" r="3.6" fill="url(#dot)" opacity="0.69"/>
<circle cx="202.64" cy="58.40" r="3.6" fill="url(#dot)" opacity="0.80"/>
<circle cx="219.78" cy="58.40" r="3.6" fill="url(#dot)" opacity="1.00"/>
<circle cx="236.92" cy="58.40" r="3.6" fill="url(#dot)" opacity="0.86"/>
<circle cx="254.06" cy="58.40" r="3.6" fill="url(#dot)" opacity="0.80"/>
<circle cx="271.20" cy="58.40" r="3.6" fill="url(#dot)" opacity="0.80"/>
<circle cx="288.34" cy="58.40" r="3.6" fill="url(#dot)" opacity="0.80"/>
<circle cx="305.48" cy="58.40" r="3.6" fill="url(#dot)" opacity="0.69"/>
<circle cx="185.50" cy="75.55" r="3.6" fill="url(#dot)" opacity="0.69"/>
<circle cx="202.64" cy="75.55" r="3.6" fill="url(#dot)" opacity="0.86"/>
<circle cx="219.78" cy="75.55" r="3.6" fill="url(#dot)" opacity="1.00"/>
<circle cx="236.92" cy="75.55" r="3.6" fill="url(#dot)" opacity="0.92"/>
<circle cx="254.06" cy="75.55" r="3.6" fill="url(#dot)" opacity="0.80"/>
<circle cx="271.20" cy="75.55" r="3.6" fill="url(#dot)" opacity="0.86"/>
<circle cx="288.34" cy="75.55" r="3.6" fill="url(#dot)" opacity="0.80"/>
<circle cx="305.48" cy="75.55" r="3.6" fill="url(#dot)" opacity="0.69"/>
<circle cx="185.50" cy="92.70" r="3.6" fill="url(#dot)" opacity="0.63"/>
<circle cx="202.64" cy="92.70" r="3.6" fill="url(#dot)" opacity="0.80"/>
<circle cx="219.78" cy="92.70" r="3.6" fill="url(#dot)" opacity="0.98"/>
<circle cx="236.92" cy="92.70" r="3.6" fill="url(#dot)" opacity="0.92"/>
<circle cx="254.06" cy="92.70" r="3.6" fill="url(#dot)" opacity="0.86"/>
<circle cx="271.20" cy="92.70" r="3.6" fill="url(#dot)" opacity="0.86"/>
<circle cx="288.34" cy="92.70" r="3.6" fill="url(#dot)" opacity="0.80"/>
<circle cx="305.48" cy="92.70" r="3.6" fill="url(#dot)" opacity="0.63"/>
<circle cx="185.50" cy="109.85" r="3.6" fill="url(#dot)" opacity="0.63"/>
<circle cx="202.64" cy="109.85" r="3.6" fill="url(#dot)" opacity="0.80"/>
<circle cx="219.78" cy="109.85" r="3.6" fill="url(#dot)" opacity="0.92"/>
<circle cx="236.92" cy="109.85" r="3.6" fill="url(#dot)" opacity="0.86"/>
<circle cx="254.06" cy="109.85" r="3.6" fill="url(#dot)" opacity="0.86"/>
<circle cx="271.20" cy="109.85" r="3.6" fill="url(#dot)" opacity="0.80"/>
<circle cx="288.34" cy="109.85" r="3.6" fill="url(#dot)" opacity="0.80"/>
<circle cx="305.48" cy="109.85" r="3.6" fill="url(#dot)" opacity="0.63"/>
<circle cx="185.50" cy="127.00" r="3.6" fill="url(#dot)" opacity="0.63"/>
<circle cx="202.64" cy="127.00" r="3.6" fill="url(#dot)" opacity="0.80"/>
<circle cx="219.78" cy="127.00" r="3.6" fill="url(#dot)" opacity="0.92"/>
<circle cx="236.92" cy="127.00" r="3.6" fill="url(#dot)" opacity="0.92"/>
<circle cx="254.06" cy="127.00" r="3.6" fill="url(#dot)" opacity="0.80"/>
<circle cx="271.20" cy="127.00" r="3.6" fill="url(#dot)" opacity="0.86"/>
<circle cx="288.34" cy="127.00" r="3.6" fill="url(#dot)" opacity="0.80"/>
<circle cx="305.48" cy="127.00" r="3.6" fill="url(#dot)" opacity="0.69"/>
<circle cx="185.50" cy="144.15" r="3.6" fill="url(#dot)" opacity="0.57"/>
<circle cx="202.64" cy="144.15" r="3.6" fill="url(#dot)" opacity="0.69"/>
<circle cx="219.78" cy="144.15" r="3.6" fill="url(#dot)" opacity="0.80"/>
<circle cx="236.92" cy="144.15" r="3.6" fill="url(#dot)" opacity="0.80"/>
<circle cx="254.06" cy="144.15" r="3.6" fill="url(#dot)" opacity="0.69"/>
<circle cx="271.20" cy="144.15" r="3.6" fill="url(#dot)" opacity="0.69"/>
<circle cx="288.34" cy="144.15" r="3.6" fill="url(#dot)" opacity="0.69"/>
<circle cx="305.48" cy="144.15" r="3.6" fill="url(#dot)" opacity="0.57"/>
<text x="4.60" y="8.10" font-size="9.5" textLength="10.40" lengthAdjust="spacingAndGlyphs" font-weight="bold">(a)</text>
<text x="172.30" y="8.60" font-size="9.5" textLength="10.80" lengthAdjust="spacingAndGlyphs">(b)</text>
<text x="1.00" y="170.90" font-size="10" textLength="9.00" lengthAdjust="spacingAndGlyphs">(c)</text>
<text x="339.70" y="8.80" font-size="9.5" textLength="11.30" lengthAdjust="spacingAndGlyphs">(d)</text>
<text x="340.80" y="171.70" font-size="9.5" textLength="11.30" lengthAdjust="spacingAndGlyphs">(e)</text>
<ellipse cx="39" cy="175" rx="7.3" ry="12" fill="#eef6e6"/>
<g clip-path="url(#cc)">
<path d="M29.00,174.26 L29.50,173.97 L30.00,173.54 L30.50,173.08 L31.00,172.71 L31.50,172.45 L32.00,172.30 L32.50,172.23 L33.00,172.20 L33.50,172.20 L34.00,172.22 L34.50,172.26 L35.00,172.33 L35.50,172.47 L36.00,172.70 L36.50,173.06 L37.00,173.55 L37.50,174.11 L38.00,174.62 L38.50,174.91 L39.00,174.88 L39.50,174.53 L40.00,174.01 L40.50,173.46 L41.00,173.00 L41.50,172.67 L42.00,172.46 L42.50,172.34 L43.00,172.28 L43.50,172.25 L44.00,172.24 L44.50,172.25 L45.00,172.28 L45.50,172.37 L46.00,172.54 L46.50,172.83 L47.00,173.23 L47.50,173.69 L48.00,174.11 L48.50,174.36 L49.00,174.36 L49.50,174.11 L50.00,173.69 L50.50,173.23 L51.00,172.82 L51.50,172.53 L52.00,172.36 L52.50,172.27 L53.00,172.22 L53.50,172.21 L54.00,172.21 L54.50,172.23 L55.00,172.27 L55.50,172.35 L56.00,172.52 L56.50,172.80 L57.00,173.20 L57.50,173.66 L58.00,174.09 L58.50,174.36 L59.00,174.39 L59.50,174.17 L60.00,173.76 L60.50,173.30 L61.00,172.88 L61.50,172.58 L62.00,172.40 L62.50,172.30 L63.00,172.26 L63.50,172.24 L64.00,172.24 L64.50,172.25 L65.00,172.29 L65.50,172.37 L66.00,172.53 L66.50,172.80 L67.00,173.18 L67.50,173.64 L68.00,174.08 L68.50,174.38 L69.00,174.44 L69.50,174.23 L70.00,173.84 L70.50,173.37 L71.00,172.96 L71.50,172.64 L72.00,172.45 L72.50,172.34 L73.00,172.29 L73.50,172.27 L74.00,172.27 L74.50,172.28 L75.00,172.32 L75.50,172.40 L76.00,172.55 L76.50,172.80 L77.00,173.18 L77.50,173.63 L78.00,174.08 L78.50,174.40 L79.00,174.48 L79.50,174.30 L80.00,173.92 L80.50,173.46 L81.00,173.03 L81.50,172.70 L82.00,172.50 L82.50,172.38 L83.00,172.33 L83.50,172.31 L84.00,172.31 L84.50,172.32 L85.00,172.35 L85.50,172.42 L86.00,172.56 L86.50,172.87 L87.00,173.28 L87.50,173.79 L88.00,174.30 L88.50,174.70 L89.00,174.86 L89.50,174.76 L90.00,172.78 L90.50,173.20 L91.00,173.51 L91.50,173.63 L92.00,173.60 L92.50,173.48 L93.00,173.39 L93.50,173.40 L94.00,173.50 L94.50,173.64 L95.00,173.71 L95.50,173.65 L96.00,173.44 L96.50,173.15 L97.00,172.92 L97.50,172.76 L98.00,172.80 L98.50,173.01 L99.00,173.29 L99.50,173.52 L100.00,173.63 L100.50,173.61 L101.00,173.55 L101.50,173.52 L102.00,173.60 L102.50,173.79 L103.00,174.02 L103.50,174.18 L104.00,174.18 L104.50,173.98 L105.00,173.63 L105.50,173.26 L106.00,172.97 L106.50,172.83 L107.00,172.85 L107.50,172.97 L108.00,173.07 L108.50,173.08 L109.00,172.99 L109.50,172.86 L110.00,172.82 L110.50,172.92 L111.00,173.19 L111.50,173.56 L112.00,173.92 L112.50,174.14 L113.00,174.18 L113.50,174.05 L114.00,173.83 L114.50,173.65 L115.00,173.56 L115.50,173.58 L116.00,173.65 L116.50,173.67 L117.00,173.56 L117.50,173.32 L118.00,173.02 L118.50,172.81 L119.00,172.76 L119.50,172.90 L120.00,173.22 L120.50,173.59 L121.00,173.90 L121.50,174.08 L122.00,174.13 L122.50,174.10 L123.00,174.11 L123.50,174.21 L124.00,174.41 L124.50,174.65 L125.00,174.82 L125.50,174.83 L126.00,174.65 L126.50,174.34 L127.00,174.02 L127.50,173.79 L128.00,173.74 L128.50,173.85 L129.00,174.04 L129.50,174.22 L130.00,174.31 L130.50,174.30 L131.00,174.25 L131.50,174.26 L132.00,174.41 L132.50,174.71 L133.00,175.10 L133.50,175.46 L134.00,175.68 L134.50,175.70 L135.00,175.55 L135.50,175.32 L136.00,175.13 L136.50,175.04 L137.00,175.08 L137.50,175.17 L138.00,175.22 L138.50,175.17 L139.00,175.00 L139.50,174.78 L140.00,174.62 L140.50,174.57 L141.00,174.73 L141.50,175.04 L142.00,175.40 L142.50,175.69 L143.00,175.84 L143.50,175.83 L144.00,175.74 L144.50,175.67 L145.00,175.69 L145.50,175.81 L146.00,175.97 L146.50,176.06 L147.00,176.01 L147.50,175.78 L148.00,175.44 L148.50,175.09 L149.00,174.86 L149.50,174.81 L150.00,174.94 L150.50,175.45 L151.00,175.95 L151.50,176.35 L152.00,176.65 L152.50,176.91 L153.00,177.22 L153.50,177.42 L154.00,177.77 L154.50,178.20 L155.00,178.61 L155.50,178.89 L156.00,179.00 L156.50,178.96 L157.00,178.88 L157.50,178.78 L158.00,178.87 L158.50,179.15 L159.00,179.59 L159.50,180.06 L160.00,180.47 L160.50,180.71 L161.00,180.73 L161.50,180.53 L162.00,180.20 L162.50,179.87 L163.00,179.60 L163.50,179.38 L164.00,179.13 L164.50,178.80 L165.00,178.38 L165.50,177.93 L166.00,177.53 L166.50,177.34 L167.00,177.28 L167.50,177.30 L168.00,177.28 L168.50,177.14 L169.00,176.87 L169.50,176.51 L170.00,176.20 L170.50,176.06 L171.00,176.17 L171.50,176.59 L172.00,177.34 L172.50,178.60 L173.00,180.82 L173.50,183.30 L174.00,181.90 L174.50,179.29 L175.00,177.96 L175.50,177.48 L176.00,177.39 L176.50,177.33 L177.00,177.19 L177.50,176.91 L178.00,176.48 L178.50,176.01 L179.00,175.59 L179.50,175.33 L180.00,175.22 L180.50,175.20 L181.00,175.17 L181.50,175.06 L182.00,174.85 L182.50,174.59 L183.00,174.39 L183.50,174.34 L184.00,174.47 L184.50,174.74 L185.00,175.02 L185.50,175.32 L186.00,175.44 L186.50,175.39 L187.00,175.24 L187.50,175.09 L188.00,175.04 L188.50,175.09 L189.00,175.19 L189.50,175.24 L190.00,175.18 L190.50,174.96 L191.00,174.66 L191.50,174.38 L192.00,174.24 L192.50,174.29 L193.00,174.53 L193.50,174.85 L194.00,175.15 L194.50,175.33 L195.00,175.39 L195.50,175.37 L196.00,175.36 L196.50,175.46 L197.00,175.67 L197.50,175.93 L198.00,176.15 L198.50,176.22 L199.00,176.09 L199.50,175.81 L200.00,175.47 L200.50,175.24 L201.00,175.16 L201.50,175.25 L202.00,175.44 L202.50,175.62 L203.00,175.72 L203.50,175.72 L204.00,175.67 L204.50,175.67 L205.00,175.81 L205.50,176.12 L206.00,176.54 L206.50,176.97 L207.00,177.29 L207.50,177.42 L208.00,177.38 L208.50,177.22 L209.00,177.08 L209.50,177.03 L210.00,177.09 L210.50,177.14 L211.00,177.17 L211.50,177.08 L212.00,176.86 L212.50,176.56 L213.00,176.30 L213.50,176.17 L214.00,176.25 L214.50,176.50 L215.00,176.83 L215.50,177.13 L216.00,177.30 L216.50,177.32 L217.00,177.26 L217.50,177.20 L218.00,177.23 L218.50,177.36 L219.00,177.55 L219.50,177.69 L220.00,177.69 L220.50,177.50 L221.00,177.16 L221.50,176.78 L222.00,176.49 L222.50,176.36 L223.00,176.41 L223.50,176.56 L224.00,176.72 L224.50,176.79 L225.00,176.76 L225.50,176.68 L226.00,176.63 L226.50,176.71 L227.00,176.94 L227.50,177.28 L228.00,177.61 L228.50,177.81 L229.00,177.83 L229.50,177.65 L230.00,177.38 L230.50,177.12 L231.00,176.96 L231.50,176.93 L232.00,176.97 L232.50,177.02 L233.00,176.97 L233.50,176.81 L234.00,176.57 L234.50,176.37 L235.00,176.32 L235.50,176.46 L236.00,176.77 L236.50,177.15 L237.00,177.48 L237.50,177.67 L238.00,177.70 L238.50,177.62 L239.00,177.55 L239.50,177.55 L240.00,177.65 L240.50,177.81 L241.00,177.93 L241.50,177.91 L242.00,177.72 L242.50,177.39 L243.00,177.05 L243.50,176.79 L244.00,176.72 L244.50,176.82 L245.00,177.05 L245.50,177.26 L246.00,177.39 L246.50,177.41 L247.00,177.36 L247.50,177.34 L248.00,177.42 L248.50,177.65 L249.00,177.96 L249.50,178.26 L250.00,178.43 L250.50,178.41 L251.00,178.20 L251.50,177.89 L252.00,177.60 L252.50,177.43 L253.00,177.40 L253.50,177.46 L254.00,177.52 L254.50,177.50 L255.00,177.36 L255.50,177.17 L256.00,177.01 L256.50,176.98 L257.00,177.15 L257.50,177.48 L258.00,177.86 L258.50,178.18 L259.00,178.35 L259.50,178.34 L260.00,178.22 L260.50,178.08 L261.00,178.03 L261.50,178.07 L262.00,178.42 L262.50,178.42 L263.00,178.28 L263.50,177.97 L264.00,177.56 L264.50,177.14 L265.00,176.86 L265.50,176.79 L266.00,176.94 L266.50,177.23 L267.00,177.55 L267.50,177.81 L268.00,177.96 L268.50,178.04 L269.00,178.13 L269.50,178.31 L270.00,178.59 L270.50,178.93 L271.00,179.22 L271.50,179.34 L272.00,179.24 L272.50,178.94 L273.00,178.52 L273.50,178.12 L274.00,177.85 L274.50,177.74 L275.00,177.74 L275.50,177.78 L276.00,177.77 L276.50,177.69 L277.00,177.58 L277.50,177.52 L278.00,177.63 L278.50,177.93 L279.00,178.38 L279.50,178.88 L280.00,179.29 L280.50,179.52 L281.00,179.53 L281.50,179.40 L282.00,179.22 L282.50,179.09 L283.00,179.04 L283.50,179.04 L284.00,179.00 L284.50,178.85 L285.00,178.56 L285.50,178.18 L286.00,177.83 L286.50,177.61 L287.00,177.62 L287.50,177.85 L288.00,178.22 L288.50,178.60 L289.00,178.90 L289.50,179.08 L290.00,179.16 L290.50,179.23 L291.00,179.36 L291.50,179.58 L292.00,179.85 L292.50,180.06 L293.00,180.11 L293.50,179.94 L294.00,179.58 L294.50,179.13 L295.00,178.72 L295.50,178.46 L296.00,178.39 L296.50,178.45 L297.00,178.56 L297.50,178.63 L298.00,178.63 L298.50,178.59 L299.00,178.60 L299.50,178.76 L300.00,179.08 L300.50,179.54 L301.00,180.01 L301.50,180.37 L302.00,180.53 L302.50,180.48 L303.00,180.26 L303.50,180.01 L304.00,179.81 L304.50,179.71 L305.00,179.67 L305.50,179.63 L306.00,179.50 L306.50,179.26 L307.00,178.95 L307.50,178.67 L308.00,178.56 L308.50,178.68 L309.00,179.03 L309.10,179.12 L309.20,179.22 L309.30,179.32 L309.40,179.42 L309.50,179.53 L309.60,179.63 L309.70,179.74 L309.80,179.85 L309.90,179.95 L310.00,180.05 L310.10,180.10 L310.20,180.14 L310.30,180.18 L310.40,180.22 L310.50,180.25 L310.60,180.28 L310.70,180.31 L310.80,180.33 L310.90,180.35 L311.00,180.38 L311.10,180.40 L311.20,180.43 L311.30,180.46 L311.40,180.49 L311.50,180.53 L311.60,180.59 L311.70,180.66 L311.80,180.74 L311.90,180.85 L312.00,180.98 L312.10,181.25 L312.20,181.56 L312.30,181.92 L312.40,182.34 L312.50,182.83 L312.60,183.41 L312.70,184.12 L312.80,184.98 L312.90,186.06 L313.00,187.43 L313.10,189.21 L313.20,191.57 L313.30,194.76 L313.40,199.16 L313.50,205.28 L313.60,213.59 L313.70,223.87 L313.80,233.77 L313.90,238.19 L314.00,233.92 L314.10,224.18 L314.20,214.04 L314.30,205.88 L314.40,199.92 L314.50,195.67 L314.60,192.63 L314.70,190.41 L314.80,188.76 L314.90,187.51 L315.00,186.54 L315.10,185.78 L315.20,185.16 L315.30,184.66 L315.40,184.24 L315.50,183.89 L315.60,183.59 L315.70,183.34 L315.80,183.12 L315.90,182.93 L316.00,182.76 L316.10,182.62 L316.20,182.50 L316.30,182.40 L316.40,182.31 L316.50,182.24 L316.60,182.19 L316.70,182.15 L316.80,182.13 L316.90,182.12 L317.00,182.12 L317.10,182.04 L317.20,181.98 L317.30,181.92 L317.40,181.88 L317.50,181.85 L317.60,181.82 L317.70,181.80 L317.80,181.79 L317.90,181.78 L318.00,181.78 L318.10,181.79 L318.20,181.79 L318.30,181.80 L318.40,181.81 L318.50,181.82 L318.60,181.82 L318.70,181.83 L318.80,181.83 L318.90,181.83 L319.40,181.80 L319.90,181.72 L320.40,181.54 L320.90,181.45 L321.40,181.50 L321.90,181.69 L322.40,181.89 L322.90,182.00 L323.40,181.94 L323.90,181.65 L324.40,181.19 L324.90,180.68 L325.40,180.21 L325.90,179.86 L326.40,179.62 L326.90,179.40" fill="none" stroke="#5cbce6" stroke-width="1.3"/>
<path d="M29.00,173.86 L29.50,173.57 L30.00,173.14 L30.50,172.68 L31.00,172.31 L31.50,172.05 L32.00,171.90 L32.50,171.83 L33.00,171.80 L33.50,171.80 L34.00,171.82 L34.50,171.86 L35.00,171.93 L35.50,172.07 L36.00,172.30 L36.50,172.66 L37.00,173.15 L37.50,173.71 L38.00,174.22 L38.50,174.51 L39.00,174.48 L39.50,174.13 L40.00,173.61 L40.50,173.06 L41.00,172.60 L41.50,172.27 L42.00,172.06 L42.50,171.94 L43.00,171.88 L43.50,171.85 L44.00,171.84 L44.50,171.85 L45.00,171.88 L45.50,171.97 L46.00,172.14 L46.50,172.43 L47.00,172.83 L47.50,173.29 L48.00,173.71 L48.50,173.96 L49.00,173.96 L49.50,173.71 L50.00,173.29 L50.50,172.83 L51.00,172.42 L51.50,172.13 L52.00,171.96 L52.50,171.87 L53.00,171.82 L53.50,171.81 L54.00,171.81 L54.50,171.82 L55.00,171.87 L55.50,171.95 L56.00,172.12 L56.50,172.40 L57.00,172.80 L57.50,173.26 L58.00,173.69 L58.50,173.96 L59.00,173.99 L59.50,173.76 L60.00,173.36 L60.50,172.90 L61.00,172.48 L61.50,172.18 L62.00,172.00 L62.50,171.90 L63.00,171.86 L63.50,171.84 L64.00,171.84 L64.50,171.85 L65.00,171.89 L65.50,171.97 L66.00,172.13 L66.50,172.40 L67.00,172.78 L67.50,173.24 L68.00,173.68 L68.50,173.98 L69.00,174.04 L69.50,173.83 L70.00,173.44 L70.50,172.97 L71.00,172.56 L71.50,172.24 L72.00,172.05 L72.50,171.94 L73.00,171.89 L73.50,171.87 L74.00,171.87 L74.50,171.88 L75.00,171.92 L75.50,172.00 L76.00,172.15 L76.50,172.40 L77.00,172.78 L77.50,173.23 L78.00,173.68 L78.50,174.00 L79.00,174.08 L79.50,173.90 L80.00,173.52 L80.50,173.06 L81.00,172.63 L81.50,172.30 L82.00,172.10 L82.50,171.98 L83.00,171.93 L83.50,171.91 L84.00,171.91 L84.50,171.92 L85.00,171.95 L85.50,172.02 L86.00,172.16 L86.50,172.46 L87.00,172.88 L87.50,173.39 L88.00,173.90 L88.50,174.30 L89.00,174.46 L89.50,174.36 L90.00,172.38 L90.50,172.80 L91.00,173.11 L91.50,173.23 L92.00,173.20 L92.50,173.08 L93.00,172.99 L93.50,173.00 L94.00,173.10 L94.50,173.24 L95.00,173.31 L95.50,173.25 L96.00,173.04 L96.50,172.75 L97.00,172.52 L97.50,172.36 L98.00,172.40 L98.50,172.61 L99.00,172.89 L99.50,173.12 L100.00,173.23 L100.50,173.21 L101.00,173.15 L101.50,173.12 L102.00,173.20 L102.50,173.39 L103.00,173.62 L103.50,173.78 L104.00,173.78 L104.50,173.58 L105.00,173.23 L105.50,172.86 L106.00,172.57 L106.50,172.43 L107.00,172.45 L107.50,172.57 L108.00,172.67 L108.50,172.68 L109.00,172.59 L109.50,172.46 L110.00,172.42 L110.50,172.52 L111.00,172.79 L111.50,173.16 L112.00,173.52 L112.50,173.74 L113.00,173.78 L113.50,173.65 L114.00,173.43 L114.50,173.25 L115.00,173.16 L115.50,173.18 L116.00,173.25 L116.50,173.27 L117.00,173.16 L117.50,172.92 L118.00,172.62 L118.50,172.41 L119.00,172.36 L119.50,172.50 L120.00,172.82 L120.50,173.19 L121.00,173.50 L121.50,173.68 L122.00,173.73 L122.50,173.70 L123.00,173.71 L123.50,173.81 L124.00,174.01 L124.50,174.25 L125.00,174.42 L125.50,174.43 L126.00,174.25 L126.50,173.94 L127.00,173.62 L127.50,173.39 L128.00,173.34 L128.50,173.45 L129.00,173.64 L129.50,173.82 L130.00,173.91 L130.50,173.90 L131.00,173.85 L131.50,173.86 L132.00,174.00 L132.50,174.31 L133.00,174.70 L133.50,175.06 L134.00,175.28 L134.50,175.30 L135.00,175.15 L135.50,174.92 L136.00,174.73 L136.50,174.64 L137.00,174.68 L137.50,174.77 L138.00,174.82 L138.50,174.77 L139.00,174.60 L139.50,174.38 L140.00,174.22 L140.50,174.17 L141.00,174.33 L141.50,174.64 L142.00,175.00 L142.50,175.29 L143.00,175.44 L143.50,175.43 L144.00,175.34 L144.50,175.27 L145.00,175.29 L145.50,175.41 L146.00,175.57 L146.50,175.66 L147.00,175.61 L147.50,175.38 L148.00,175.04 L148.50,174.69 L149.00,174.46 L149.50,174.41 L150.00,174.54 L150.50,175.05 L151.00,175.55 L151.50,175.95 L152.00,176.25 L152.50,176.51 L153.00,176.82 L153.50,177.02 L154.00,177.37 L154.50,177.80 L155.00,178.21 L155.50,178.49 L156.00,178.60 L156.50,178.56 L157.00,178.48 L157.50,178.38 L158.00,178.47 L158.50,178.75 L159.00,179.19 L159.50,179.66 L160.00,180.07 L160.50,180.31 L161.00,180.33 L161.50,180.13 L162.00,179.80 L162.50,179.47 L163.00,179.20 L163.50,178.98 L164.00,178.73 L164.50,178.40 L165.00,177.98 L165.50,177.53 L166.00,177.13 L166.50,176.94 L167.00,176.88 L167.50,176.90 L168.00,176.88 L168.50,176.74 L169.00,176.47 L169.50,176.11 L170.00,175.80 L170.50,175.66 L171.00,175.77 L171.50,176.19 L172.00,176.94 L172.50,178.20 L173.00,180.42 L173.50,182.90 L174.00,181.50 L174.50,178.89 L175.00,177.56 L175.50,177.08 L176.00,176.99 L176.50,176.93 L177.00,176.79 L177.50,176.51 L178.00,176.08 L178.50,175.60 L179.00,175.19 L179.50,174.93 L180.00,174.82 L180.50,174.80 L181.00,174.77 L181.50,174.66 L182.00,174.45 L182.50,174.19 L183.00,173.99 L183.50,173.94 L184.00,174.07 L184.50,174.34 L185.00,174.62 L185.50,174.92 L186.00,175.04 L186.50,174.99 L187.00,174.84 L187.50,174.69 L188.00,174.64 L188.50,174.69 L189.00,174.79 L189.50,174.84 L190.00,174.78 L190.50,174.56 L191.00,174.26 L191.50,173.98 L192.00,173.84 L192.50,173.89 L193.00,174.13 L193.50,174.45 L194.00,174.75 L194.50,174.93 L195.00,174.99 L195.50,174.97 L196.00,174.96 L196.50,175.06 L197.00,175.27 L197.50,175.53 L198.00,175.75 L198.50,175.82 L199.00,175.69 L199.50,175.40 L200.00,175.07 L200.50,174.84 L201.00,174.76 L201.50,174.85 L202.00,175.04 L202.50,175.22 L203.00,175.32 L203.50,175.32 L204.00,175.27 L204.50,175.27 L205.00,175.41 L205.50,175.72 L206.00,176.14 L206.50,176.57 L207.00,176.89 L207.50,177.02 L208.00,176.98 L208.50,176.82 L209.00,176.68 L209.50,176.63 L210.00,176.69 L210.50,176.74 L211.00,176.77 L211.50,176.68 L212.00,176.46 L212.50,176.16 L213.00,175.90 L213.50,175.77 L214.00,175.85 L214.50,176.10 L215.00,176.43 L215.50,176.73 L216.00,176.90 L216.50,176.92 L217.00,176.86 L217.50,176.80 L218.00,176.83 L218.50,176.96 L219.00,177.15 L219.50,177.29 L220.00,177.28 L220.50,177.09 L221.00,176.76 L221.50,176.38 L222.00,176.09 L222.50,175.96 L223.00,176.01 L223.50,176.16 L224.00,176.32 L224.50,176.39 L225.00,176.36 L225.50,176.28 L226.00,176.23 L226.50,176.31 L227.00,176.54 L227.50,176.88 L228.00,177.21 L228.50,177.41 L229.00,177.42 L229.50,177.25 L230.00,176.98 L230.50,176.72 L231.00,176.56 L231.50,176.53 L232.00,176.57 L232.50,176.62 L233.00,176.57 L233.50,176.41 L234.00,176.17 L234.50,175.97 L235.00,175.92 L235.50,176.06 L236.00,176.37 L236.50,176.75 L237.00,177.08 L237.50,177.27 L238.00,177.29 L238.50,177.22 L239.00,177.14 L239.50,177.15 L240.00,177.25 L240.50,177.41 L241.00,177.53 L241.50,177.51 L242.00,177.32 L242.50,176.99 L243.00,176.64 L243.50,176.39 L244.00,176.32 L244.50,176.42 L245.00,176.64 L245.50,176.86 L246.00,176.99 L246.50,177.01 L247.00,176.96 L247.50,176.93 L248.00,177.02 L248.50,177.25 L249.00,177.56 L249.50,177.86 L250.00,178.03 L250.50,178.01 L251.00,177.80 L251.50,177.49 L252.00,177.20 L252.50,177.03 L253.00,177.00 L253.50,177.06 L254.00,177.12 L254.50,177.10 L255.00,176.96 L255.50,176.76 L256.00,176.60 L256.50,176.58 L257.00,176.75 L257.50,177.08 L258.00,177.46 L258.50,177.78 L259.00,177.95 L259.50,177.94 L260.00,177.82 L260.50,177.68 L261.00,177.63 L261.50,177.67 L262.00,178.02 L262.50,178.01 L263.00,177.88 L263.50,177.57 L264.00,177.16 L264.50,176.74 L265.00,176.46 L265.50,176.39 L266.00,176.54 L266.50,176.83 L267.00,177.15 L267.50,177.41 L268.00,177.56 L268.50,177.64 L269.00,177.73 L269.50,177.90 L270.00,178.19 L270.50,178.53 L271.00,178.82 L271.50,178.94 L272.00,178.84 L272.50,178.53 L273.00,178.12 L273.50,177.72 L274.00,177.45 L274.50,177.33 L275.00,177.34 L275.50,177.38 L276.00,177.37 L276.50,177.29 L277.00,177.17 L277.50,177.12 L278.00,177.22 L278.50,177.53 L279.00,177.98 L279.50,178.48 L280.00,178.89 L280.50,179.11 L281.00,179.13 L281.50,179.00 L282.00,178.82 L282.50,178.69 L283.00,178.64 L283.50,178.64 L284.00,178.60 L284.50,178.45 L285.00,178.16 L285.50,177.78 L286.00,177.42 L286.50,177.20 L287.00,177.21 L287.50,177.44 L288.00,177.81 L288.50,178.19 L289.00,178.50 L289.50,178.67 L290.00,178.75 L290.50,178.82 L291.00,178.95 L291.50,179.17 L292.00,179.44 L292.50,179.65 L293.00,179.70 L293.50,179.53 L294.00,179.17 L294.50,178.72 L295.00,178.31 L295.50,178.05 L296.00,177.97 L296.50,178.03 L297.00,178.14 L297.50,178.21 L298.00,178.21 L298.50,178.17 L299.00,178.18 L299.50,178.33 L300.00,178.66 L300.50,179.11 L301.00,179.58 L301.50,179.94 L302.00,180.10 L302.50,180.04 L303.00,179.82 L303.50,179.56 L304.00,179.36 L304.50,179.25 L305.00,179.21 L305.50,179.16 L306.00,179.02 L306.50,178.77 L307.00,178.44 L307.50,178.15 L308.00,178.02 L308.50,178.12 L309.00,178.43 L309.10,178.51 L309.20,178.60 L309.30,178.69 L309.40,178.78 L309.50,178.88 L309.60,178.97 L309.70,179.06 L309.80,179.16 L309.90,179.25 L310.00,179.33 L310.10,179.36 L310.20,179.39 L310.30,179.40 L310.40,179.42 L310.50,179.43 L310.60,179.43 L310.70,179.43 L310.80,179.42 L310.90,179.41 L311.00,179.40 L311.10,179.38 L311.20,179.36 L311.30,179.33 L311.40,179.31 L311.50,179.29 L311.60,179.27 L311.70,179.25 L311.80,179.24 L311.90,179.23 L312.00,179.23 L312.10,179.35 L312.20,179.49 L312.30,179.63 L312.40,179.79 L312.50,179.98 L312.60,180.18 L312.70,180.41 L312.80,180.67 L312.90,180.97 L313.00,181.32 L313.10,181.73 L313.20,182.21 L313.30,182.76 L313.40,183.40 L313.50,184.10 L313.60,184.84 L313.70,185.53 L313.80,186.05 L313.90,186.29 L314.00,186.20 L314.10,185.83 L314.20,185.29 L314.30,184.70 L314.40,184.15 L314.50,183.67 L314.60,183.27 L314.70,182.93 L314.80,182.65 L314.90,182.42 L315.00,182.23 L315.10,182.07 L315.20,181.93 L315.30,181.81 L315.40,181.70 L315.50,181.60 L315.60,181.52 L315.70,181.44 L315.80,181.37 L315.90,181.31 L316.00,181.26 L316.10,181.22 L316.20,181.18 L316.30,181.15 L316.40,181.13 L316.50,181.12 L316.60,181.12 L316.70,181.13 L316.80,181.15 L316.90,181.18 L317.00,181.22 L317.10,181.17 L317.20,181.13 L317.30,181.10 L317.40,181.08 L317.50,181.07 L317.60,181.06 L317.70,181.06 L317.80,181.07 L317.90,181.08 L318.00,181.09 L318.10,181.11 L318.20,181.13 L318.30,181.15 L318.40,181.17 L318.50,181.19 L318.60,181.20 L318.70,181.22 L318.80,181.23 L318.90,181.24 L319.40,181.24 L319.90,181.19 L320.40,181.03 L320.90,180.95 L321.40,181.02 L321.90,181.21 L322.40,181.43 L322.90,181.54 L323.40,181.48 L323.90,181.20 L324.40,180.75 L324.90,180.24 L325.40,179.78 L325.90,179.43 L326.40,179.19 L326.90,178.97" fill="none" stroke="#2164a6" stroke-width="0.9"/>
</g>
<rect x="29.0" y="171.5" width="298.0" height="81.80000000000001" fill="none" stroke="#7a7a7a" stroke-width="1"/>
<line x1="43.30" y1="253.3" x2="43.30" y2="250.8" stroke="#7a7a7a" stroke-width="1"/>
<line x1="43.30" y1="171.5" x2="43.30" y2="174.0" stroke="#7a7a7a" stroke-width="1"/>
<text x="43.30" y="266.50" font-size="10.3" text-anchor="middle" textLength="20.80" lengthAdjust="spacingAndGlyphs">1510</text>
<line x1="82.70" y1="253.3" x2="82.70" y2="250.8" stroke="#7a7a7a" stroke-width="1"/>
<line x1="82.70" y1="171.5" x2="82.70" y2="174.0" stroke="#7a7a7a" stroke-width="1"/>
<text x="82.70" y="266.50" font-size="10.3" text-anchor="middle" textLength="20.80" lengthAdjust="spacingAndGlyphs">1520</text>
<line x1="122.10" y1="253.3" x2="122.10" y2="250.8" stroke="#7a7a7a" stroke-width="1"/>
<line x1="122.10" y1="171.5" x2="122.10" y2="174.0" stroke="#7a7a7a" stroke-width="1"/>
<text x="122.10" y="266.50" font-size="10.3" text-anchor="middle" textLength="20.80" lengthAdjust="spacingAndGlyphs">1530</text>
<line x1="161.50" y1="253.3" x2="161.50" y2="250.8" stroke="#7a7a7a" stroke-width="1"/>
<line x1="161.50" y1="171.5" x2="161.50" y2="174.0" stroke="#7a7a7a" stroke-width="1"/>
<text x="161.50" y="266.50" font-size="10.3" text-anchor="middle" textLength="20.80" lengthAdjust="spacingAndGlyphs">1540</text>
<line x1="200.90" y1="253.3" x2="200.90" y2="250.8" stroke="#7a7a7a" stroke-width="1"/>
<line x1="200.90" y1="171.5" x2="200.90" y2="174.0" stroke="#7a7a7a" stroke-width="1"/>
<text x="200.90" y="266.50" font-size="10.3" text-anchor="middle" textLength="20.80" lengthAdjust="spacingAndGlyphs">1550</text>
<line x1="240.30" y1="253.3" x2="240.30" y2="250.8" stroke="#7a7a7a" stroke-width="1"/>
<line x1="240.30" y1="171.5" x2="240.30" y2="174.0" stroke="#7a7a7a" stroke-width="1"/>
<text x="240.30" y="266.50" font-size="10.3" text-anchor="middle" textLength="20.80" lengthAdjust="spacingAndGlyphs">1560</text>
<line x1="279.70" y1="253.3" x2="279.70" y2="250.8" stroke="#7a7a7a" stroke-width="1"/>
<line x1="279.70" y1="171.5" x2="279.70" y2="174.0" stroke="#7a7a7a" stroke-width="1"/>
<text x="279.70" y="266.50" font-size="10.3" text-anchor="middle" textLength="20.80" lengthAdjust="spacingAndGlyphs">1570</text>
<line x1="319.10" y1="253.3" x2="319.10" y2="250.8" stroke="#7a7a7a" stroke-width="1"/>
<line x1="319.10" y1="171.5" x2="319.10" y2="174.0" stroke="#7a7a7a" stroke-width="1"/>
<text x="319.10" y="266.50" font-size="10.3" text-anchor="middle" textLength="20.80" lengthAdjust="spacingAndGlyphs">1580</text>
<line x1="29.0" y1="171.50" x2="31.5" y2="171.50" stroke="#7a7a7a" stroke-width="1"/>
<line x1="327.0" y1="171.50" x2="324.5" y2="171.50" stroke="#7a7a7a" stroke-width="1"/>
<text x="25.50" y="175.00" font-size="10.1" text-anchor="end">0</text>
<line x1="29.0" y1="198.77" x2="31.5" y2="198.77" stroke="#7a7a7a" stroke-width="1"/>
<line x1="327.0" y1="198.77" x2="324.5" y2="198.77" stroke="#7a7a7a" stroke-width="1"/>
<text x="25.50" y="202.27" font-size="10.1" text-anchor="end">-5</text>
<line x1="29.0" y1="226.03" x2="31.5" y2="226.03" stroke="#7a7a7a" stroke-width="1"/>
<line x1="327.0" y1="226.03" x2="324.5" y2="226.03" stroke="#7a7a7a" stroke-width="1"/>
<text x="25.50" y="229.53" font-size="10.1" text-anchor="end">-10</text>
<line x1="29.0" y1="253.30" x2="31.5" y2="253.30" stroke="#7a7a7a" stroke-width="1"/>
<line x1="327.0" y1="253.30" x2="324.5" y2="253.30" stroke="#7a7a7a" stroke-width="1"/>
<text x="25.50" y="256.80" font-size="10.1" text-anchor="end">-15</text>
<text x="12.30" y="214.00" font-size="8.7" text-anchor="middle" textLength="68.60" lengthAdjust="spacingAndGlyphs" transform="rotate(-90 12.30 214.00)">Transmission (dB)</text>
<text x="180.30" y="283.40" font-size="9.7" text-anchor="middle" textLength="69.20" lengthAdjust="spacingAndGlyphs">Wavelength (nm)</text>
<ellipse cx="39" cy="175" rx="7.3" ry="12" fill="none" stroke="#e05050" stroke-width="0.9" stroke-dasharray="1.6,1.6" opacity="0.85"/>
<ellipse cx="175.4" cy="179.3" rx="9" ry="12" fill="none" stroke="#e05050" stroke-width="0.9" stroke-dasharray="1.6,1.6" opacity="0.85"/>
<ellipse cx="314" cy="209.5" rx="8.4" ry="38.2" fill="none" stroke="#e05050" stroke-width="0.9" stroke-dasharray="1.6,1.6" opacity="0.85"/>
<line x1="48" y1="177" x2="54.66" y2="183.36" stroke="#e8141e" stroke-width="0.9"/>
<polygon points="59,187.5 52.24,185.89 57.08,180.83" fill="#e8141e"/>
<line x1="305" y1="186.5" x2="297.74" y2="190.57" stroke="#e8141e" stroke-width="0.9"/>
<polygon points="292.5,193.5 296.02,187.51 299.45,193.62" fill="#e8141e"/>
<rect x="66.2" y="191.1" width="82.99999999999999" height="44.70000000000002" fill="#fff" stroke="#7a7a7a" stroke-width="1"/>
<clipPath id="ci1"><rect x="66.7" y="191.6" width="82" height="43.7"/></clipPath>
<g clip-path="url(#ci1)">
<path d="M64.27,198.71 L64.64,198.17 L65.00,196.34 L65.37,198.64 L65.74,198.43 L66.10,198.03 L66.47,200.05 L66.83,198.41 L67.20,197.82 L67.57,197.00 L67.93,200.50 L68.30,199.45 L68.67,200.52 L69.03,196.91 L69.40,197.50 L69.77,200.77 L70.13,196.05 L70.50,196.14 L70.87,197.70 L71.23,197.89 L71.60,200.19 L71.96,200.90 L72.33,198.33 L72.70,200.68 L73.06,200.02 L73.43,199.76 L73.80,200.83 L74.16,198.65 L74.53,198.77 L74.90,196.75 L75.26,198.37 L75.63,197.76 L75.99,198.47 L76.36,197.65 L76.73,198.68 L77.09,199.58 L77.46,195.97 L77.83,195.98 L78.19,196.76 L78.56,197.43 L78.93,199.40 L79.29,199.83 L79.66,199.53 L80.03,200.63 L80.39,197.14 L80.76,198.98 L81.12,196.74 L81.49,199.05 L81.86,196.19 L82.22,196.75 L82.59,201.01 L82.96,199.97 L83.32,196.46 L83.69,198.69 L84.06,196.14 L84.42,199.08 L84.79,200.74 L85.15,197.97 L85.52,197.26 L85.89,199.85 L86.25,200.81 L86.62,199.64 L86.99,196.54 L87.35,197.65 L87.72,200.95 L88.09,200.41 L88.45,201.26 L88.82,201.60 L89.19,198.07 L89.55,201.35 L89.92,199.64 L90.28,200.44 L90.65,201.99 L91.02,199.56 L91.38,202.90 L91.75,200.69 L92.12,203.73 L92.48,202.64 L92.85,204.16 L93.22,204.39 L93.58,201.43 L93.95,202.87 L94.31,206.01 L94.68,203.78 L95.05,207.88 L95.41,207.72 L95.78,206.21 L96.15,208.09 L96.51,211.66 L96.88,208.07 L97.25,212.86 L97.61,213.53 L97.98,211.85 L98.35,214.98 L98.71,216.03 L99.08,218.02 L99.44,218.78 L99.81,217.12 L100.18,219.60 L100.54,218.52 L100.91,220.33 L101.28,220.52 L101.64,218.50 L102.01,221.33 L102.38,221.24 L102.74,220.05 L103.11,223.67 L103.47,223.90 L103.84,220.12 L104.21,220.48 L104.57,223.15 L104.94,223.17 L105.31,220.05 L105.67,218.60 L106.04,221.80 L106.41,217.43 L106.77,217.11 L107.14,217.79 L107.51,217.93 L107.87,218.72 L108.24,218.20 L108.60,212.69 L108.97,215.43 L109.34,212.19 L109.70,213.54 L110.07,209.79 L110.44,210.04 L110.80,210.69 L111.17,210.43 L111.54,206.88 L111.90,209.35 L112.27,207.80 L112.63,205.42 L113.00,203.26 L113.37,203.82 L113.73,204.89 L114.10,201.14 L114.47,204.20 L114.83,204.67 L115.20,202.97 L115.57,201.68 L115.93,203.26 L116.30,202.35 L116.67,201.09 L117.03,199.95 L117.40,200.74 L117.76,198.18 L118.13,199.72 L118.50,203.34 L118.86,201.58 L119.23,198.98 L119.60,202.42 L119.96,200.74 L120.33,199.89 L120.70,202.99 L121.06,199.58 L121.43,201.06 L121.79,199.66 L122.16,202.18 L122.53,200.25 L122.89,201.52 L123.26,203.58 L123.63,205.93 L123.99,203.76 L124.36,203.43 L124.73,200.90 L125.09,206.05 L125.46,204.02 L125.83,201.32 L126.19,202.24 L126.56,203.80 L126.92,207.69 L127.29,204.89 L127.66,200.45 L128.02,209.98 L128.39,202.99 L128.76,208.32 L129.12,203.18 L129.49,200.74 L129.86,203.11 L130.22,205.58 L130.59,200.51 L130.95,206.06 L131.32,206.78 L131.69,204.89 L132.05,201.19 L132.42,200.13 L132.79,208.32 L133.15,207.21 L133.52,205.75 L133.89,204.92 L134.25,201.30 L134.62,205.35 L134.99,209.77 L135.35,209.66 L135.72,204.11 L136.08,201.79 L136.45,208.67 L136.82,209.84 L137.18,207.61 L137.55,209.60 L137.92,205.41 L138.28,203.23 L138.65,200.04 L139.02,208.01 L139.38,208.22 L139.75,205.14 L140.11,208.22 L140.48,206.47 L140.85,204.64 L141.21,202.16 L141.58,201.79 L141.95,209.18 L142.31,202.52 L142.68,205.34 L143.05,200.55 L143.41,204.13 L143.78,201.74 L144.15,205.23 L144.51,207.95 L144.88,201.51 L145.24,202.57 L145.61,200.66 L145.98,199.85 L146.34,201.80 L146.71,200.55 L147.08,206.44 L147.44,205.47 L147.81,202.04 L148.18,209.80 L148.54,209.42 L148.91,208.28 L149.27,201.83 L149.64,208.54 L150.01,202.51 L150.37,202.87 L150.74,204.93 L151.11,209.19" fill="none" stroke="#2f86cc" stroke-width="1.5"/>
<path d="M64.27,198.71 L65.37,198.64 L66.47,200.05 L67.57,197.00 L68.67,200.52 L69.77,200.77 L70.87,197.70 L71.96,200.90 L73.06,200.02 L74.16,198.65 L75.26,198.37 L76.36,197.65 L77.46,195.97 L78.56,197.43 L79.66,199.53 L80.76,198.98 L81.86,196.19 L82.96,199.97 L84.06,196.14 L85.15,197.97 L86.25,200.81 L87.35,197.65 L88.45,201.26 L89.55,201.35 L90.65,201.99 L91.75,200.69 L92.85,204.16 L93.95,202.87 L95.05,207.88 L96.15,208.09 L97.25,212.86 L98.35,214.98 L99.44,218.78 L100.54,218.52 L101.64,218.50 L102.74,220.05 L103.84,220.12 L104.94,223.17 L106.04,221.80 L107.14,217.79 L108.24,218.20 L109.34,212.19 L110.44,210.04 L111.54,206.88 L112.63,205.42 L113.73,204.89 L114.83,204.67 L115.93,203.26 L117.03,199.95 L118.13,199.72 L119.23,198.98 L120.33,199.89 L121.43,201.06 L122.53,200.25 L123.63,205.93 L124.73,200.90 L125.83,201.32 L126.92,207.69 L128.02,209.98 L129.12,203.18 L130.22,205.58 L131.32,206.78 L132.42,200.13 L133.52,205.75 L134.62,205.35 L135.72,204.11 L136.82,209.84 L137.92,205.41 L139.02,208.01 L140.11,208.22 L141.21,202.16 L142.31,202.52 L143.41,204.13 L144.51,207.95 L145.61,200.66 L146.71,200.55 L147.81,202.04 L148.91,208.28 L150.01,202.51 L151.11,209.19" fill="none" stroke="#3a3a9a" stroke-width="0.7" opacity="0.55"/>
<path d="M64.27,198.78 L64.64,198.80 L65.00,198.81 L65.37,198.83 L65.74,198.84 L66.10,198.86 L66.47,198.88 L66.83,198.89 L67.20,198.91 L67.57,198.93 L67.93,198.95 L68.30,198.96 L68.67,198.98 L69.03,199.00 L69.40,199.03 L69.77,199.05 L70.13,199.07 L70.50,199.09 L70.87,199.11 L71.23,199.14 L71.60,199.16 L71.96,199.19 L72.33,199.22 L72.70,199.24 L73.06,199.27 L73.43,199.30 L73.80,199.33 L74.16,199.37 L74.53,199.40 L74.90,199.43 L75.26,199.47 L75.63,199.50 L75.99,199.54 L76.36,199.58 L76.73,199.62 L77.09,199.67 L77.46,199.71 L77.83,199.76 L78.19,199.80 L78.56,199.85 L78.93,199.91 L79.29,199.96 L79.66,200.02 L80.03,200.07 L80.39,200.14 L80.76,200.20 L81.12,200.27 L81.49,200.34 L81.86,200.41 L82.22,200.49 L82.59,200.57 L82.96,200.65 L83.32,200.74 L83.69,200.83 L84.06,200.93 L84.42,201.03 L84.79,201.13 L85.15,201.24 L85.52,201.36 L85.89,201.49 L86.25,201.62 L86.62,201.75 L86.99,201.90 L87.35,202.05 L87.72,202.21 L88.09,202.38 L88.45,202.57 L88.82,202.76 L89.19,202.96 L89.55,203.17 L89.92,203.40 L90.28,203.64 L90.65,203.90 L91.02,204.17 L91.38,204.46 L91.75,204.77 L92.12,205.06 L92.48,205.38 L92.85,205.71 L93.22,206.07 L93.58,206.46 L93.95,206.87 L94.31,207.31 L94.68,207.78 L95.05,208.29 L95.41,208.83 L95.78,209.40 L96.15,210.01 L96.51,210.65 L96.88,211.33 L97.25,212.05 L97.61,212.80 L97.98,213.58 L98.35,214.39 L98.71,215.22 L99.08,216.06 L99.44,216.91 L99.81,217.75 L100.18,218.57 L100.54,219.35 L100.91,220.08 L101.28,220.74 L101.64,221.32 L102.01,221.78 L102.38,222.13 L102.74,222.34 L103.11,222.41 L103.47,222.34 L103.84,222.12 L104.21,221.77 L104.57,221.29 L104.94,220.69 L105.31,220.00 L105.67,219.23 L106.04,218.40 L106.41,217.52 L106.77,216.62 L107.14,215.70 L107.51,214.78 L107.87,213.87 L108.24,212.98 L108.60,212.11 L108.97,211.27 L109.34,210.46 L109.70,209.69 L110.07,208.96 L110.44,208.26 L110.80,207.59 L111.17,206.97 L111.54,206.37 L111.90,205.81 L112.27,205.28 L112.63,204.78 L113.00,204.31 L113.37,203.86 L113.73,203.44 L114.10,203.05 L114.47,202.67 L114.83,202.33 L115.20,202.04 L115.57,201.75 L115.93,201.49 L116.30,201.24 L116.67,201.01 L117.03,200.79 L117.40,200.58 L117.76,200.38 L118.13,200.19 L118.50,200.02 L118.86,199.85 L119.23,199.69 L119.60,199.55 L119.96,199.40 L120.33,199.27 L120.70,199.14 L121.06,199.02 L121.43,198.91 L121.79,198.80 L122.16,198.70 L122.53,198.60 L122.89,198.50 L123.26,198.41 L123.63,198.33 L123.99,198.25 L124.36,198.17 L124.73,198.09 L125.09,198.02 L125.46,197.95 L125.83,197.89 L126.19,197.83 L126.56,197.77 L126.92,197.71 L127.29,197.65 L127.66,197.60 L128.02,197.55 L128.39,197.50 L128.76,197.45 L129.12,197.41 L129.49,197.36 L129.86,197.32 L130.22,197.28 L130.59,197.24 L130.95,197.21 L131.32,197.17 L131.69,197.14 L132.05,197.10 L132.42,197.07 L132.79,197.04 L133.15,197.01 L133.52,196.98 L133.89,196.95 L134.25,196.92 L134.62,196.90 L134.99,196.87 L135.35,196.85 L135.72,196.82 L136.08,196.80 L136.45,196.78 L136.82,196.76 L137.18,196.73 L137.55,196.71 L137.92,196.69 L138.28,196.68 L138.65,196.66 L139.02,196.64 L139.38,196.62 L139.75,196.60 L140.11,196.59 L140.48,196.57 L140.85,196.55 L141.21,196.54 L141.58,196.52 L141.95,196.51 L142.31,196.50 L142.68,196.48 L143.05,196.47 L143.41,196.46 L143.78,196.44 L144.15,196.43 L144.51,196.42 L144.88,196.41 L145.24,196.40 L145.61,196.38 L145.98,196.37 L146.34,196.36 L146.71,196.35 L147.08,196.34 L147.44,196.33 L147.81,196.32 L148.18,196.31 L148.54,196.31 L148.91,196.30 L149.27,196.29 L149.64,196.28 L150.01,196.27 L150.37,196.26 L150.74,196.25 L151.11,196.25" fill="none" stroke="#e0202a" stroke-width="1.4" stroke-dasharray="3,1.8"/>
</g>
<line x1="80.30" y1="235.8" x2="80.30" y2="233.8" stroke="#7a7a7a" stroke-width="0.8"/>
<text x="80.30" y="247.90" font-size="8.6" text-anchor="middle" textLength="17.80" lengthAdjust="spacingAndGlyphs">1508</text>
<line x1="103.20" y1="235.8" x2="103.20" y2="233.8" stroke="#7a7a7a" stroke-width="0.8"/>
<text x="103.20" y="247.90" font-size="8.6" text-anchor="middle" textLength="17.80" lengthAdjust="spacingAndGlyphs">1509</text>
<line x1="126.10" y1="235.8" x2="126.10" y2="233.8" stroke="#7a7a7a" stroke-width="0.8"/>
<text x="126.10" y="247.90" font-size="8.6" text-anchor="middle" textLength="17.80" lengthAdjust="spacingAndGlyphs">1510</text>
<text x="62.50" y="194.70" font-size="9.2" text-anchor="end">0</text>
<line x1="66.2" y1="214.20" x2="68.2" y2="214.20" stroke="#7a7a7a" stroke-width="0.8"/>
<text x="62.50" y="217.50" font-size="9.2" text-anchor="end">-0.5</text>
<line x1="66.2" y1="237.00" x2="68.2" y2="237.00" stroke="#7a7a7a" stroke-width="0.8"/>
<text x="62.50" y="240.30" font-size="9.2" text-anchor="end">-1</text>
<text x="70.50" y="189.30" font-size="8.85" textLength="73.20" lengthAdjust="spacingAndGlyphs">used for beamforming</text>
<text x="72.50" y="233.00" font-size="9.43" textLength="62.80" lengthAdjust="spacingAndGlyphs">FWHM ~ 0.45 nm</text>
<rect x="205.3" y="191.5" width="83.69999999999999" height="44.5" fill="#fff" stroke="#7a7a7a" stroke-width="1"/>
<clipPath id="ci2"><rect x="205.6" y="191.8" width="82.9" height="43.5"/></clipPath>
<g clip-path="url(#ci2)">
<path d="M193.46,196.53 L194.62,196.53 L195.78,196.54 L196.93,196.54 L198.09,196.55 L199.25,196.55 L200.41,196.56 L201.57,196.56 L202.72,196.57 L203.88,196.58 L205.04,196.59 L206.20,196.60 L207.36,196.61 L208.51,196.62 L209.67,196.64 L210.83,196.65 L211.99,196.67 L213.15,196.69 L214.30,196.71 L215.46,196.74 L216.62,196.75 L217.78,196.75 L218.94,196.73 L220.09,196.67 L221.25,196.57 L222.41,196.45 L223.57,196.33 L223.72,196.32 L223.88,196.31 L224.03,196.30 L224.19,196.29 L224.34,196.29 L224.49,196.29 L224.65,196.28 L224.80,196.28 L224.96,196.29 L225.11,196.29 L225.27,196.30 L225.42,196.31 L225.58,196.32 L225.73,196.34 L225.88,196.35 L226.04,196.38 L226.19,196.40 L226.35,196.43 L226.50,196.46 L226.66,196.49 L226.81,196.53 L226.96,196.57 L227.12,196.62 L227.27,196.66 L227.43,196.71 L227.58,196.77 L227.74,196.83 L227.89,196.89 L228.05,196.95 L228.20,197.02 L228.35,197.09 L228.51,197.16 L228.66,197.24 L228.82,197.32 L228.97,197.41 L229.13,197.50 L229.28,197.59 L229.44,197.68 L229.59,197.78 L229.74,197.89 L229.90,197.99 L230.05,198.10 L230.21,198.22 L230.36,198.34 L230.52,198.47 L230.67,198.60 L230.82,198.73 L230.98,198.87 L231.13,199.02 L231.29,199.18 L231.44,199.34 L231.60,199.51 L231.75,199.69 L231.91,199.88 L232.06,200.08 L232.21,200.29 L232.37,200.51 L232.52,200.75 L232.68,201.00 L232.83,201.27 L232.99,201.56 L233.14,201.87 L233.30,202.20 L233.45,202.55 L233.60,202.93 L233.76,203.35 L233.91,203.79 L234.07,204.27 L234.22,204.80 L234.38,205.36 L234.53,205.98 L234.68,206.65 L234.84,207.37 L234.99,208.17 L235.15,209.03 L235.30,209.96 L235.46,210.98 L235.61,212.08 L235.77,213.26 L235.92,214.53 L236.07,215.89 L236.23,217.32 L236.38,218.82 L236.54,220.36 L236.69,221.93 L236.85,223.47 L237.00,224.95 L237.16,226.31 L237.31,227.50 L237.46,228.46 L237.62,229.13 L237.77,229.47 L237.93,229.48 L238.08,229.16 L238.24,228.51 L238.39,227.58 L238.54,226.41 L238.70,225.06 L238.85,223.61 L239.01,222.08 L239.16,220.54 L239.32,219.02 L239.47,217.54 L239.63,216.13 L239.78,214.80 L239.93,213.55 L240.09,212.39 L240.24,211.31 L240.40,210.32 L240.55,209.41 L240.71,208.57 L240.86,207.81 L241.02,207.10 L241.17,206.46 L241.32,205.87 L241.48,205.33 L241.63,204.84 L241.79,204.39 L241.94,203.97 L242.10,203.59 L242.25,203.24 L242.40,202.92 L242.56,202.62 L242.71,202.35 L242.87,202.09 L243.02,201.86 L243.18,201.64 L243.33,201.44 L243.49,201.26 L243.64,201.09 L243.79,200.93 L243.95,200.78 L244.10,200.64 L244.26,200.52 L244.41,200.40 L244.57,200.29 L244.72,200.18 L244.88,200.09 L245.03,200.00 L245.18,199.92 L245.34,199.84 L245.49,199.77 L245.65,199.70 L245.80,199.64 L245.96,199.58 L246.11,199.52 L246.26,199.47 L246.42,199.42 L246.57,199.38 L246.73,199.34 L246.88,199.30 L247.04,199.26 L247.19,199.23 L247.35,199.20 L247.50,199.17 L247.65,199.14 L247.81,199.12 L247.96,199.10 L248.12,199.08 L248.27,199.06 L248.43,199.04 L248.58,199.02 L248.74,199.01 L248.89,199.00 L249.04,198.98 L249.20,198.97 L249.35,198.96 L249.51,198.95 L249.66,198.95 L249.82,198.94 L249.97,198.93 L250.12,198.93 L250.28,198.93 L250.43,198.92 L250.59,198.92 L250.74,198.92 L250.90,198.92 L251.05,198.92 L251.21,198.92 L251.36,198.92 L251.51,198.92 L251.67,198.92 L251.82,198.92 L251.98,198.93 L252.13,198.93 L252.29,198.94 L252.44,198.94 L252.60,198.95 L252.75,198.95 L252.90,198.96 L253.06,198.96 L253.21,198.97 L253.37,198.98 L254.53,199.04 L255.68,199.12 L256.84,199.21 L258.00,199.20 L259.16,199.16 L260.32,199.13 L261.47,199.10 L262.63,199.08 L263.79,199.06 L264.95,199.04 L266.11,199.02 L267.26,199.01 L268.42,199.00 L269.58,198.98 L270.74,198.97 L271.90,198.97 L273.05,198.96 L274.21,198.95 L275.37,198.94 L276.53,198.94 L277.69,198.93 L278.84,198.93 L280.00,198.92 L281.16,198.92 L282.32,198.91 L283.48,198.91 L284.63,198.90 L285.79,198.90 L286.95,198.90 L288.11,198.90 L289.27,198.89 L290.42,198.89 L291.58,198.89 L292.74,198.89 L293.90,198.88 L295.06,198.88 L296.21,198.88 L297.37,198.88 L298.53,198.88 L299.69,198.88 L300.85,198.87" fill="none" stroke="#3aa6c0" stroke-width="1.4"/>
<path d="M193.46,196.75 L194.62,196.76 L195.78,196.77 L196.93,196.77 L198.09,196.78 L199.25,196.79 L200.41,196.81 L201.57,196.82 L202.72,196.83 L203.88,196.85 L205.04,196.86 L206.20,196.88 L207.36,196.90 L208.51,196.93 L209.67,196.95 L210.83,196.98 L211.99,197.02 L213.15,197.05 L214.30,197.10 L215.46,197.15 L216.62,197.21 L217.78,197.28 L218.94,197.36 L220.09,197.46 L221.25,197.58 L222.41,197.72 L223.57,197.90 L223.72,197.93 L223.88,197.96 L224.03,197.99 L224.19,198.02 L224.34,198.05 L224.49,198.08 L224.65,198.11 L224.80,198.15 L224.96,198.18 L225.11,198.22 L225.27,198.26 L225.42,198.30 L225.58,198.34 L225.73,198.38 L225.88,198.42 L226.04,198.47 L226.19,198.51 L226.35,198.56 L226.50,198.61 L226.66,198.66 L226.81,198.72 L226.96,198.77 L227.12,198.83 L227.27,198.89 L227.43,198.96 L227.58,199.02 L227.74,199.09 L227.89,199.16 L228.05,199.24 L228.20,199.32 L228.35,199.40 L228.51,199.48 L228.66,199.57 L228.82,199.66 L228.97,199.76 L229.13,199.86 L229.28,199.97 L229.44,200.08 L229.59,200.19 L229.74,200.32 L229.90,200.44 L230.05,200.58 L230.21,200.72 L230.36,200.87 L230.52,201.03 L230.67,201.19 L230.82,201.37 L230.98,201.55 L231.13,201.74 L231.29,201.95 L231.44,202.16 L231.60,202.39 L231.75,202.63 L231.91,202.89 L232.06,203.16 L232.21,203.45 L232.37,203.76 L232.52,204.08 L232.68,204.42 L232.83,204.79 L232.99,205.18 L233.14,205.59 L233.30,206.04 L233.45,206.51 L233.60,207.01 L233.76,207.54 L233.91,208.11 L234.07,208.71 L234.22,209.35 L234.38,210.03 L234.53,210.76 L234.68,211.53 L234.84,212.35 L234.99,213.21 L235.15,214.12 L235.30,215.07 L235.46,216.07 L235.61,217.11 L235.77,218.18 L235.92,219.29 L236.07,220.41 L236.23,221.55 L236.38,222.67 L236.54,223.78 L236.69,224.85 L236.85,225.85 L237.00,226.77 L237.16,227.58 L237.31,228.26 L237.46,228.79 L237.62,229.16 L237.77,229.34 L237.93,229.34 L238.08,229.15 L238.24,228.79 L238.39,228.26 L238.54,227.57 L238.70,226.76 L238.85,225.84 L239.01,224.84 L239.16,223.77 L239.32,222.66 L239.47,221.53 L239.63,220.39 L239.78,219.27 L239.93,218.16 L240.09,217.08 L240.24,216.04 L240.40,215.04 L240.55,214.09 L240.71,213.18 L240.86,212.32 L241.02,211.50 L241.17,210.73 L241.32,210.00 L241.48,209.31 L241.63,208.67 L241.79,208.06 L241.94,207.50 L242.10,206.96 L242.25,206.46 L242.40,205.99 L242.56,205.55 L242.71,205.13 L242.87,204.74 L243.02,204.37 L243.18,204.02 L243.33,203.70 L243.49,203.39 L243.64,203.10 L243.79,202.83 L243.95,202.57 L244.10,202.33 L244.26,202.10 L244.41,201.88 L244.57,201.67 L244.72,201.48 L244.88,201.29 L245.03,201.12 L245.18,200.95 L245.34,200.79 L245.49,200.64 L245.65,200.50 L245.80,200.36 L245.96,200.23 L246.11,200.11 L246.26,199.99 L246.42,199.88 L246.57,199.77 L246.73,199.67 L246.88,199.57 L247.04,199.48 L247.19,199.39 L247.35,199.30 L247.50,199.22 L247.65,199.14 L247.81,199.06 L247.96,198.99 L248.12,198.92 L248.27,198.85 L248.43,198.79 L248.58,198.72 L248.74,198.66 L248.89,198.60 L249.04,198.55 L249.20,198.50 L249.35,198.44 L249.51,198.39 L249.66,198.35 L249.82,198.30 L249.97,198.25 L250.12,198.21 L250.28,198.17 L250.43,198.13 L250.59,198.09 L250.74,198.05 L250.90,198.01 L251.05,197.98 L251.21,197.94 L251.36,197.91 L251.51,197.88 L251.67,197.85 L251.82,197.82 L251.98,197.79 L252.13,197.76 L252.29,197.73 L252.44,197.70 L252.60,197.67 L252.75,197.65 L252.90,197.62 L253.06,197.60 L253.21,197.58 L253.37,197.55 L254.53,197.41 L255.68,197.29 L256.84,197.20 L258.00,197.11 L259.16,197.05 L260.32,196.99 L261.47,196.94 L262.63,196.89 L263.79,196.85 L264.95,196.82 L266.11,196.79 L267.26,196.77 L268.42,196.74 L269.58,196.72 L270.74,196.70 L271.90,196.69 L273.05,196.67 L274.21,196.66 L275.37,196.65 L276.53,196.63 L277.69,196.62 L278.84,196.61 L280.00,196.61 L281.16,196.60 L282.32,196.59 L283.48,196.58 L284.63,196.58 L285.79,196.57 L286.95,196.57 L288.11,196.56 L289.27,196.56 L290.42,196.55 L291.58,196.55 L292.74,196.54 L293.90,196.54 L295.06,196.54 L296.21,196.53 L297.37,196.53 L298.53,196.53 L299.69,196.52 L300.85,196.52" fill="none" stroke="#e0202a" stroke-width="1.7" stroke-dasharray="3.5,1.6"/>
</g>
<line x1="208.90" y1="236.0" x2="208.90" y2="234.0" stroke="#7a7a7a" stroke-width="0.8"/>
<text x="208.90" y="247.90" font-size="8.6" text-anchor="middle" textLength="17.80" lengthAdjust="spacingAndGlyphs">1578</text>
<line x1="247.50" y1="236.0" x2="247.50" y2="234.0" stroke="#7a7a7a" stroke-width="0.8"/>
<text x="247.50" y="247.90" font-size="8.6" text-anchor="middle" textLength="17.80" lengthAdjust="spacingAndGlyphs">1579</text>
<line x1="286.10" y1="236.0" x2="286.10" y2="234.0" stroke="#7a7a7a" stroke-width="0.8"/>
<text x="286.10" y="247.90" font-size="8.6" text-anchor="middle" textLength="17.80" lengthAdjust="spacingAndGlyphs">1580</text>
<line x1="205.3" y1="192.00" x2="207.3" y2="192.00" stroke="#7a7a7a" stroke-width="0.8"/>
<text x="201.50" y="195.30" font-size="9.2" text-anchor="end">0</text>
<line x1="205.3" y1="207.90" x2="207.3" y2="207.90" stroke="#7a7a7a" stroke-width="0.8"/>
<text x="201.50" y="211.20" font-size="9.2" text-anchor="end">-5</text>
<line x1="205.3" y1="223.80" x2="207.3" y2="223.80" stroke="#7a7a7a" stroke-width="0.8"/>
<text x="201.50" y="227.10" font-size="9.2" text-anchor="end">-10</text>
<text x="251.80" y="217.40" font-size="9.43" textLength="29.20" lengthAdjust="spacingAndGlyphs">FWHM ~</text>
<text x="251.80" y="227.30" font-size="9.43" textLength="29.00" lengthAdjust="spacingAndGlyphs">0.21 nm</text>
<line x1="418.13" y1="19.3" x2="418.13" y2="110.7" stroke="#e4e4e4" stroke-width="1"/>
<line x1="462.27" y1="19.3" x2="462.27" y2="110.7" stroke="#e4e4e4" stroke-width="1"/>
<line x1="374.0" y1="80.23" x2="506.4" y2="80.23" stroke="#e4e4e4" stroke-width="1"/>
<line x1="374.0" y1="49.77" x2="506.4" y2="49.77" stroke="#e4e4e4" stroke-width="1"/>
<text x="397.70" y="30.60" font-size="8.85" textLength="69.60" lengthAdjust="spacingAndGlyphs">Voltage applied to all</text>
<text x="397.70" y="40.20" font-size="8.85" textLength="56.10" lengthAdjust="spacingAndGlyphs">64 phase shifters</text>
<text x="397.70" y="55.60" font-size="8.85" textLength="60.00" lengthAdjust="spacingAndGlyphs">Voltage applied to</text>
<text x="397.70" y="65.20" font-size="8.85" textLength="56.50" lengthAdjust="spacingAndGlyphs">one phase shifter</text>
<path d="M374.00,110.70 L418.13,100.35 L462.27,77.65 L506.40,37.29" fill="none" stroke="#6f7f8f" stroke-width="1" opacity="0.5"/>
<path d="M374.00,110.70 L418.13,99.93 L462.27,77.02 L506.40,36.03" fill="none" stroke="#5f6f7f" stroke-width="1" opacity="0.5"/>
<path d="M374.00,110.70 L418.13,101.79 L462.27,79.82 L506.40,41.63" fill="none" stroke="#7a8a9a" stroke-width="1" opacity="0.5"/>
<path d="M374.00,110.70 L418.13,99.97 L462.27,77.09 L506.40,36.17" fill="none" stroke="#8a8a8a" stroke-width="1" opacity="0.5"/>
<path d="M374.00,110.70 L418.13,100.28 L462.27,77.56 L506.40,37.10" fill="none" stroke="#8a8a8a" stroke-width="1" opacity="0.5"/>
<path d="M374.00,110.70 L418.13,101.59 L462.27,79.51 L506.40,41.02" fill="none" stroke="#7a8a9a" stroke-width="1" opacity="0.5"/>
<path d="M374.00,110.70 L418.13,99.75 L462.27,76.75 L506.40,35.50" fill="none" stroke="#7a8a9a" stroke-width="1" opacity="0.5"/>
<path d="M374.00,110.70 L418.13,100.54 L462.27,77.94 L506.40,37.87" fill="none" stroke="#5f6f7f" stroke-width="1" opacity="0.5"/>
<path d="M374.00,110.70 L418.13,101.26 L462.27,79.02 L506.40,40.02" fill="none" stroke="#8a8a8a" stroke-width="1" opacity="0.5"/>
<path d="M374.00,110.70 L418.13,100.87 L462.27,78.44 L506.40,38.86" fill="none" stroke="#8a8a8a" stroke-width="1" opacity="0.5"/>
<path d="M374.00,110.70 L418.13,99.63 L462.27,76.58 L506.40,35.15" fill="none" stroke="#7a8a9a" stroke-width="1" opacity="0.5"/>
<path d="M374.00,110.70 L418.13,101.48 L462.27,79.35 L506.40,40.68" fill="none" stroke="#7f7f7f" stroke-width="1" opacity="0.5"/>
<path d="M374.00,110.70 L418.13,101.53 L462.27,79.42 L506.40,40.83" fill="none" stroke="#5f6f7f" stroke-width="1" opacity="0.5"/>
<path d="M374.00,110.70 L418.13,100.78 L462.27,78.30 L506.40,38.59" fill="none" stroke="#8a8a8a" stroke-width="1" opacity="0.5"/>
<path d="M374.00,110.70 L418.13,101.86 L462.27,79.92 L506.40,41.83" fill="none" stroke="#7f7f7f" stroke-width="1" opacity="0.5"/>
<path d="M374.00,110.70 L418.13,101.35 L462.27,79.16 L506.40,40.31" fill="none" stroke="#8a8a8a" stroke-width="1" opacity="0.5"/>
<path d="M374.00,110.70 L418.13,99.52 L462.27,76.42 L506.40,34.82" fill="none" stroke="#8a8a8a" stroke-width="1" opacity="0.5"/>
<path d="M374.00,110.70 L418.13,99.74 L462.27,76.74 L506.40,35.47" fill="none" stroke="#6f7f8f" stroke-width="1" opacity="0.5"/>
<path d="M374.00,110.70 L418.13,101.10 L462.27,78.78 L506.40,39.55" fill="none" stroke="#8a8a8a" stroke-width="1" opacity="0.5"/>
<path d="M374.00,110.70 L418.13,100.55 L462.27,77.96 L506.40,37.90" fill="none" stroke="#8a8a8a" stroke-width="1" opacity="0.5"/>
<path d="M374.00,110.70 L418.13,101.42 L462.27,79.26 L506.40,40.52" fill="none" stroke="#8a8a8a" stroke-width="1" opacity="0.5"/>
<path d="M374.00,110.70 L418.13,99.51 L462.27,76.39 L506.40,34.78" fill="none" stroke="#7a8a9a" stroke-width="1" opacity="0.5"/>
<path d="M374.00,110.70 L418.13,101.14 L462.27,78.84 L506.40,39.66" fill="none" stroke="#6f7f8f" stroke-width="1" opacity="0.5"/>
<path d="M374.00,110.70 L418.13,100.85 L462.27,78.41 L506.40,38.81" fill="none" stroke="#8a8a8a" stroke-width="1" opacity="0.5"/>
<path d="M374.00,110.70 L418.13,101.22 L462.27,78.96 L506.40,39.92" fill="none" stroke="#6f7f8f" stroke-width="1" opacity="0.5"/>
<path d="M374.00,110.70 L418.13,101.13 L462.27,78.83 L506.40,39.64" fill="none" stroke="#5f6f7f" stroke-width="1" opacity="0.5"/>
<path d="M374.00,110.70 L418.13,100.44 L462.27,77.79 L506.40,37.56" fill="none" stroke="#5f6f7f" stroke-width="1" opacity="0.5"/>
<path d="M374.00,110.70 L418.13,100.21 L462.27,77.45 L506.40,36.89" fill="none" stroke="#6f7f8f" stroke-width="1" opacity="0.5"/>
<path d="M374.00,110.70 L418.13,101.70 L462.27,79.69 L506.40,41.36" fill="none" stroke="#6f7f8f" stroke-width="1" opacity="0.5"/>
<path d="M374.00,110.70 L418.13,99.87 L462.27,76.94 L506.40,35.86" fill="none" stroke="#7a8a9a" stroke-width="1" opacity="0.5"/>
<path d="M374.00,110.70 L418.13,100.17 L462.27,77.38 L506.40,36.75" fill="none" stroke="#8a8a8a" stroke-width="1" opacity="0.5"/>
<path d="M374.00,110.70 L418.13,100.69 L462.27,78.17 L506.40,38.33" fill="none" stroke="#8a8a8a" stroke-width="1" opacity="0.5"/>
<path d="M374.00,110.70 L418.13,101.73 L462.27,79.72 L506.40,41.43" fill="none" stroke="#7f7f7f" stroke-width="1" opacity="0.5"/>
<path d="M374.00,110.70 L418.13,99.55 L462.27,76.46 L506.40,34.90" fill="none" stroke="#6f7f8f" stroke-width="1" opacity="0.5"/>
<path d="M374.00,110.70 L418.13,99.81 L462.27,76.84 L506.40,35.67" fill="none" stroke="#7f7f7f" stroke-width="1" opacity="0.5"/>
<path d="M374.00,110.70 L418.13,100.53 L462.27,77.92 L506.40,37.83" fill="none" stroke="#7a8a9a" stroke-width="1" opacity="0.5"/>
<path d="M374.00,110.70 L418.13,100.97 L462.27,78.59 L506.40,39.17" fill="none" stroke="#5f6f7f" stroke-width="1" opacity="0.5"/>
<path d="M374.00,110.70 L418.13,99.81 L462.27,76.85 L506.40,35.69" fill="none" stroke="#7a8a9a" stroke-width="1" opacity="0.5"/>
<path d="M374.00,110.70 L418.13,101.75 L462.27,79.76 L506.40,41.50" fill="none" stroke="#8a8a8a" stroke-width="1" opacity="0.5"/>
<path d="M374.00,110.70 L418.13,100.34 L462.27,77.65 L506.40,37.28" fill="none" stroke="#8a8a8a" stroke-width="1" opacity="0.5"/>
<path d="M374.00,110.70 L418.13,101.57 L462.27,79.49 L506.40,40.98" fill="none" stroke="#8a8a8a" stroke-width="1" opacity="0.5"/>
<path d="M374.00,110.70 L418.13,99.60 L462.27,76.53 L506.40,35.05" fill="none" stroke="#7a8a9a" stroke-width="1" opacity="0.5"/>
<path d="M374.00,110.70 L418.13,101.03 L462.27,78.67 L506.40,39.33" fill="none" stroke="#6f7f8f" stroke-width="1" opacity="0.5"/>
<path d="M374.00,110.70 L418.13,99.69 L462.27,76.66 L506.40,35.32" fill="none" stroke="#6f7f8f" stroke-width="1" opacity="0.5"/>
<path d="M374.00,110.70 L418.13,99.97 L462.27,77.09 L506.40,36.17" fill="none" stroke="#7f7f7f" stroke-width="1" opacity="0.5"/>
<path d="M374.00,110.70 L418.13,100.43 L462.27,77.77 L506.40,37.53" fill="none" stroke="#6f7f8f" stroke-width="1" opacity="0.5"/>
<path d="M374.00,110.70 L418.13,99.77 L462.27,76.79 L506.40,35.56" fill="none" stroke="#7f7f7f" stroke-width="1" opacity="0.5"/>
<path d="M374.00,110.70 L418.13,100.81 L462.27,78.35 L506.40,38.68" fill="none" stroke="#7f7f7f" stroke-width="1" opacity="0.5"/>
<path d="M374.00,110.70 L418.13,101.36 L462.27,79.17 L506.40,40.32" fill="none" stroke="#5f6f7f" stroke-width="1" opacity="0.5"/>
<path d="M374.00,110.70 L418.13,100.38 L462.27,77.70 L506.40,37.38" fill="none" stroke="#8a8a8a" stroke-width="1" opacity="0.5"/>
<path d="M374.00,110.70 L418.13,101.04 L462.27,78.69 L506.40,39.36" fill="none" stroke="#5f6f7f" stroke-width="1" opacity="0.5"/>
<path d="M374.00,110.70 L418.13,101.64 L462.27,79.59 L506.40,41.17" fill="none" stroke="#6f7f8f" stroke-width="1" opacity="0.5"/>
<path d="M374.00,110.70 L418.13,101.12 L462.27,78.81 L506.40,39.61" fill="none" stroke="#7f7f7f" stroke-width="1" opacity="0.5"/>
<path d="M374.00,110.70 L418.13,100.34 L462.27,77.64 L506.40,37.26" fill="none" stroke="#6f7f8f" stroke-width="1" opacity="0.5"/>
<path d="M374.00,110.70 L418.13,99.44 L462.27,76.28 L506.40,34.56" fill="none" stroke="#8a8a8a" stroke-width="1" opacity="0.5"/>
<path d="M374.00,110.70 L418.13,100.11 L462.27,77.30 L506.40,36.58" fill="none" stroke="#7f7f7f" stroke-width="1" opacity="0.5"/>
<path d="M374.00,110.70 L418.13,99.46 L462.27,76.32 L506.40,34.63" fill="none" stroke="#5f6f7f" stroke-width="1" opacity="0.5"/>
<path d="M374.00,110.70 L418.13,99.61 L462.27,76.55 L506.40,35.09" fill="none" stroke="#7f7f7f" stroke-width="1" opacity="0.5"/>
<path d="M374.00,110.70 L418.13,101.29 L462.27,79.06 L506.40,40.11" fill="none" stroke="#5f6f7f" stroke-width="1" opacity="0.5"/>
<path d="M374.00,110.70 L418.13,101.03 L462.27,78.67 L506.40,39.33" fill="none" stroke="#6f7f8f" stroke-width="1" opacity="0.5"/>
<path d="M374.00,110.70 L418.13,100.75 L462.27,78.26 L506.40,38.51" fill="none" stroke="#7a8a9a" stroke-width="1" opacity="0.5"/>
<path d="M374.00,110.70 L418.13,101.51 L462.27,79.40 L506.40,40.78" fill="none" stroke="#7f7f7f" stroke-width="1" opacity="0.5"/>
<path d="M374.00,110.70 L418.13,99.91 L462.27,77.00 L506.40,35.98" fill="none" stroke="#6f7f8f" stroke-width="1" opacity="0.5"/>
<path d="M374.00,110.70 L418.13,99.82 L462.27,76.86 L506.40,35.71" fill="none" stroke="#8a8a8a" stroke-width="1" opacity="0.5"/>
<polygon points="374,110.7 418,99.3 462,76.2 506.4,34.7 506.4,43.3 462,80.3 418,102.2 374,110.9" fill="#647a8e" stroke="#647a8e" stroke-width="0.8" stroke-linejoin="round"/>
<path d="M374,110.7 L418,100.2 L462,77.8 L506.4,37.5" fill="none" stroke="#8a9096" stroke-width="0.8" opacity="0.8"/>
<path d="M374,110.7 L418,101.5 L462,79.6 L506.4,41.5" fill="none" stroke="#5a6a7a" stroke-width="0.8" opacity="0.8"/>
<circle cx="418.13" cy="100.04" r="1.7" fill="#3a80c8"/>
<circle cx="462.27" cy="79.01" r="1.7" fill="#2a78c0"/>
<circle cx="462.27" cy="76.58" r="1.7" fill="#3aa0b0"/>
<circle cx="506.40" cy="34.53" r="1.7" fill="#3aa8b0"/>
<circle cx="506.40" cy="40.02" r="1.7" fill="#2a68c0"/>
<circle cx="506.40" cy="36.97" r="1.7" fill="#4a88c0"/>
<path d="M374.00,110.70 L418.13,103.08 L462.27,87.55 L506.40,59.21" fill="none" stroke="#e3141c" stroke-width="2.3" stroke-dasharray="2.3,2.4"/>
<circle cx="374.00" cy="110.70" r="3.1" fill="#e3141c"/>
<circle cx="418.13" cy="103.08" r="3.1" fill="#e3141c"/>
<circle cx="462.27" cy="87.55" r="3.1" fill="#e3141c"/>
<circle cx="506.40" cy="59.21" r="3.1" fill="#e3141c"/>
<line x1="378.2" y1="56.9" x2="395" y2="56.9" stroke="#e3141c" stroke-width="2.4" stroke-dasharray="2.4,2.4"/>
<line x1="466" y1="38.5" x2="480.5" y2="45.5" stroke="#6a8fc0" stroke-width="0.8"/>
<polygon points="461.2,34.8 467.8,34.8 464.5,39.9" fill="#3a70b0"/>
<ellipse cx="494.9" cy="50.7" rx="10" ry="6.4" fill="none" stroke="#111" stroke-width="1.5" stroke-dasharray="1.5,1.6"/>
<rect x="374.0" y="19.3" width="132.39999999999998" height="91.4" fill="none" stroke="#7a7a7a" stroke-width="1"/>
<text x="369.80" y="114.30" font-size="10.3" text-anchor="end">0</text>
<text x="369.80" y="83.83" font-size="10.3" text-anchor="end" textLength="12.60" lengthAdjust="spacingAndGlyphs">0.5</text>
<text x="369.80" y="53.37" font-size="10.3" text-anchor="end">1</text>
<text x="369.80" y="22.90" font-size="10.3" text-anchor="end" textLength="12.60" lengthAdjust="spacingAndGlyphs">1.5</text>
<text x="374.00" y="124.10" font-size="10.0" text-anchor="middle">0</text>
<text x="418.13" y="124.10" font-size="10.0" text-anchor="middle">0.2</text>
<text x="462.27" y="124.10" font-size="10.0" text-anchor="middle">0.4</text>
<text x="506.40" y="124.10" font-size="10.0" text-anchor="middle">0.6</text>
<text x="338.00" y="65.00" font-size="8.9" text-anchor="middle" textLength="55.40" lengthAdjust="spacingAndGlyphs" transform="rotate(-90 338.00 65.00)">Phase shifters</text>
<text x="350.00" y="64.60" font-size="9.1" text-anchor="middle" textLength="82.00" lengthAdjust="spacingAndGlyphs" transform="rotate(-90 350.00 64.60)">resonance shift (nm)</text>
<text x="437.75" y="143.00" font-size="9.2" text-anchor="middle" textLength="110.50" lengthAdjust="spacingAndGlyphs">Voltage applied to all phase</text>
<text x="438.25" y="154.00" font-size="9.3" text-anchor="middle" textLength="77.50" lengthAdjust="spacingAndGlyphs">shifters at once (V)</text>
<rect x="380.20" y="244.43" width="10.25" height="3.67" fill="#5b9bd5" stroke="#1f3550" stroke-width="0.7"/>
<rect x="410.95" y="244.43" width="10.25" height="3.67" fill="#5b9bd5" stroke="#1f3550" stroke-width="0.7"/>
<rect x="421.20" y="240.76" width="10.25" height="7.34" fill="#5b9bd5" stroke="#1f3550" stroke-width="0.7"/>
<rect x="431.45" y="222.41" width="10.25" height="25.69" fill="#5b9bd5" stroke="#1f3550" stroke-width="0.7"/>
<rect x="441.70" y="204.06" width="10.25" height="44.04" fill="#5b9bd5" stroke="#1f3550" stroke-width="0.7"/>
<rect x="451.95" y="200.39" width="10.25" height="47.71" fill="#5b9bd5" stroke="#1f3550" stroke-width="0.7"/>
<rect x="462.20" y="200.39" width="10.25" height="47.71" fill="#5b9bd5" stroke="#1f3550" stroke-width="0.7"/>
<rect x="472.45" y="226.08" width="10.25" height="22.02" fill="#5b9bd5" stroke="#1f3550" stroke-width="0.7"/>
<rect x="482.70" y="229.75" width="10.25" height="18.35" fill="#5b9bd5" stroke="#1f3550" stroke-width="0.7"/>
<rect x="492.95" y="244.43" width="10.25" height="3.67" fill="#5b9bd5" stroke="#1f3550" stroke-width="0.7"/>
<line x1="486.8" y1="195.5" x2="486.8" y2="248" stroke="#e8202a" stroke-width="1.6" stroke-dasharray="5.5,3"/>
<line x1="373.9" y1="248.1" x2="508" y2="248.1" stroke="#7a7a7a" stroke-width="1"/>
<line x1="373.9" y1="174.20" x2="373.9" y2="248.1" stroke="#7a7a7a" stroke-width="1"/>
<line x1="373.9" y1="248.10" x2="375.9" y2="248.10" stroke="#7a7a7a" stroke-width="1"/>
<text x="369.50" y="251.70" font-size="10.3" text-anchor="end">0</text>
<line x1="373.9" y1="211.40" x2="375.9" y2="211.40" stroke="#7a7a7a" stroke-width="1"/>
<text x="369.50" y="215.00" font-size="10.3" text-anchor="end" textLength="10.60" lengthAdjust="spacingAndGlyphs">10</text>
<line x1="373.9" y1="174.70" x2="375.9" y2="174.70" stroke="#7a7a7a" stroke-width="1"/>
<text x="369.50" y="178.30" font-size="10.3" text-anchor="end" textLength="10.60" lengthAdjust="spacingAndGlyphs">20</text>
<line x1="413.00" y1="248.1" x2="413.00" y2="246.1" stroke="#7a7a7a" stroke-width="1"/>
<text x="413.00" y="261.50" font-size="10.3" text-anchor="middle">-0.5</text>
<line x1="456.00" y1="248.1" x2="456.00" y2="246.1" stroke="#7a7a7a" stroke-width="1"/>
<text x="456.00" y="261.50" font-size="10.3" text-anchor="middle">0</text>
<line x1="499.00" y1="248.1" x2="499.00" y2="246.1" stroke="#7a7a7a" stroke-width="1"/>
<text x="499.00" y="261.50" font-size="10.3" text-anchor="middle">0.5</text>
<rect x="381" y="188.3" width="11.5" height="3.5" fill="#4f86c2" stroke="#2f5f90" stroke-width="0.5"/>
<text x="397.60" y="190.80" font-size="8.3" textLength="20.70" lengthAdjust="spacingAndGlyphs">Before</text>
<text x="397.60" y="200.50" font-size="8.3" textLength="32.60" lengthAdjust="spacingAndGlyphs">resonance</text>
<text x="397.60" y="209.90" font-size="8.3" textLength="32.30" lengthAdjust="spacingAndGlyphs">alignment</text>
<text x="493.50" y="180.90" font-size="7.7" text-anchor="middle" textLength="45.00" lengthAdjust="spacingAndGlyphs">all resonators</text>
<text x="493.70" y="190.50" font-size="7.8" text-anchor="middle" textLength="50.80" lengthAdjust="spacingAndGlyphs">after alignment</text>
<text x="350.60" y="208.00" font-size="9.2" text-anchor="middle" textLength="60.50" lengthAdjust="spacingAndGlyphs" transform="rotate(-90 350.60 208.00)"># of resonators</text>
<text x="438.40" y="273.80" font-size="9.2" text-anchor="middle" textLength="143.20" lengthAdjust="spacingAndGlyphs">Phase shifters resonant wavelength</text>
<text x="438.80" y="284.50" font-size="9.5" text-anchor="middle" textLength="108.40" lengthAdjust="spacingAndGlyphs">offset from the mean (nm)</text>
</svg>
</body></html>
